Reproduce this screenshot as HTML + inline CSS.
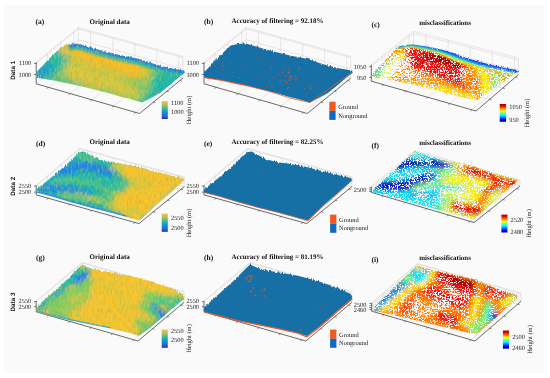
<!DOCTYPE html>
<html><head><meta charset="utf-8"><title>Filtering results</title>
<style>html,body{margin:0;padding:0;background:#fff}svg{display:block}text{text-rendering:geometricPrecision}</style></head>
<body><svg width="550" height="378" viewBox="0 0 550 378">
<defs>
<linearGradient id="gpar" x1="0" y1="1" x2="0" y2="0"><stop offset="0.000" stop-color="#352a87"/><stop offset="0.143" stop-color="#2f5be0"/><stop offset="0.286" stop-color="#1481d6"/><stop offset="0.429" stop-color="#06a4ca"/><stop offset="0.571" stop-color="#2eb7a4"/><stop offset="0.714" stop-color="#87bf77"/><stop offset="0.857" stop-color="#d1bb59"/><stop offset="1.000" stop-color="#f5bd35"/></linearGradient>
<linearGradient id="gjet" x1="0" y1="1" x2="0" y2="0"><stop offset="0.000" stop-color="#00008f"/><stop offset="0.125" stop-color="#0000ff"/><stop offset="0.250" stop-color="#0080ff"/><stop offset="0.375" stop-color="#00ffff"/><stop offset="0.500" stop-color="#80ff80"/><stop offset="0.625" stop-color="#ffff00"/><stop offset="0.750" stop-color="#ff8000"/><stop offset="0.875" stop-color="#ff0000"/><stop offset="1.000" stop-color="#a00000"/></linearGradient>
<filter id="b1" x="-30%" y="-30%" width="160%" height="160%"><feGaussianBlur stdDeviation="0.9"/></filter>
<filter id="b2" x="-30%" y="-30%" width="160%" height="160%"><feGaussianBlur stdDeviation="2"/></filter>
<filter id="b3" x="-30%" y="-30%" width="160%" height="160%"><feGaussianBlur stdDeviation="3"/></filter>
<filter id="b4" x="-30%" y="-30%" width="160%" height="160%"><feGaussianBlur stdDeviation="4.5"/></filter>
<filter id="grain" x="0" y="0" width="100%" height="100%" color-interpolation-filters="sRGB">
<feTurbulence type="fractalNoise" baseFrequency="0.55 0.22" numOctaves="1" seed="7" result="n"/>
<feColorMatrix in="n" type="matrix" values="0 0 0 0 0.3  0 0 0 0 0.75  0 0 0 0 0.55  0 0 0 1.0 -0.47" result="d"/>
<feColorMatrix in="n" type="matrix" values="0 0 0 0 1  0 0 0 0 0.88  0 0 0 0 0.12  0 1.0 0 0 -0.47" result="l"/>
<feMerge><feMergeNode in="d"/><feMergeNode in="l"/></feMerge>
<feComposite in2="SourceGraphic" operator="in"/>
</filter>
<filter id="mottle" x="-5%" y="-5%" width="110%" height="110%">
<feTurbulence type="fractalNoise" baseFrequency="0.4 0.2" numOctaves="2" seed="9" result="n"/>
<feDisplacementMap in="SourceGraphic" in2="n" scale="9" xChannelSelector="R" yChannelSelector="G"/>
</filter>
<filter id="rough" x="-5%" y="-5%" width="110%" height="110%">
<feTurbulence type="fractalNoise" baseFrequency="0.5" numOctaves="1" seed="3" result="n"/>
<feDisplacementMap in="SourceGraphic" in2="n" scale="2.0" xChannelSelector="R" yChannelSelector="G" result="d1"/>
<feTurbulence type="fractalNoise" baseFrequency="0.6 0.06" numOctaves="2" seed="8"/>
<feColorMatrix type="matrix" values="0 0 0 0 0.5  0 1 0 0 0  0 0 0 0 0.5  0 0 0 0 1" result="n2"/>
<feDisplacementMap in="d1" in2="n2" scale="4" xChannelSelector="R" yChannelSelector="G"/>
</filter>
<filter id="rough2" x="-5%" y="-5%" width="110%" height="110%">
<feTurbulence type="fractalNoise" baseFrequency="0.6" numOctaves="2" seed="5" result="n"/>
<feDisplacementMap in="SourceGraphic" in2="n" scale="3.2" xChannelSelector="R" yChannelSelector="G"/>
</filter>
<filter id="speck" x="-5%" y="-5%" width="110%" height="110%" color-interpolation-filters="sRGB">
<feTurbulence type="fractalNoise" baseFrequency="0.75" numOctaves="2" seed="11"/>
<feColorMatrix type="matrix" values="1 0 0 0 0  0 1 0 0 0  0 0 1 0 0  0 0 0 0 1" result="hi"/>
<feTurbulence type="fractalNoise" baseFrequency="0.09" numOctaves="2" seed="4"/>
<feColorMatrix type="matrix" values="1 0 0 0 0  0 1 0 0 0  0 0 1 0 0  0 0 0 0 1" result="lo"/>
<feComposite in="hi" in2="lo" operator="arithmetic" k1="0" k2="0.8" k3="0.35" k4="-0.075" result="n"/>
<feColorMatrix in="n" type="matrix" values="0 0 0 0 1  0 0 0 0 1  0 0 0 0 1  9 0 0 0 -4.7" result="w"/>
<feComposite in="w" in2="SourceGraphic" operator="in" result="ws"/>
<feMerge result="m"><feMergeNode in="SourceGraphic"/><feMergeNode in="ws"/></feMerge>
<feGaussianBlur in="m" stdDeviation="0.35"/>
</filter>
<filter id="vspeck" x="-5%" y="-5%" width="110%" height="110%" color-interpolation-filters="sRGB">
<feColorMatrix in="SourceGraphic" type="matrix" values="0 0 0 1 0  0 0 0 1 0  0 0 0 1 0  0 0 0 0 1" result="a"/>
<feTurbulence type="fractalNoise" baseFrequency="0.75" numOctaves="2" seed="23"/>
<feColorMatrix type="matrix" values="1 0 0 0 0  0 1 0 0 0  0 0 1 0 0  0 0 0 0 1" result="n"/>
<feComposite in="a" in2="n" operator="arithmetic" k1="0" k2="0.33" k3="1" k4="0"/>
<feColorMatrix type="matrix" values="0 0 0 0 1  0 0 0 0 1  0 0 0 0 1  9 0 0 0 -5.9"/>
<feGaussianBlur stdDeviation="0.3"/>
</filter>
<filter id="ospeck" x="0" y="0" width="100%" height="100%" color-interpolation-filters="sRGB">
<feTurbulence type="fractalNoise" baseFrequency="0.5" numOctaves="2" seed="5" result="n"/>
<feColorMatrix in="n" type="matrix" values="0 0 0 0 0.9  0 0 0 0 0.33  0 0 0 0 0.15  9 0 0 0 -6.3" result="w"/>
<feComposite in="w" in2="SourceGraphic" operator="in"/>
</filter>
<mask id="c1" maskUnits="userSpaceOnUse" x="26" y="32" width="168" height="82"><g filter="url(#rough)"><polygon points="36.2,72.4 45.0,63.0 50.0,58.0 58.0,50.0 63.0,45.5 70.0,44.0 78.0,43.6 90.0,47.0 100.0,50.0 110.0,52.5 120.0,55.0 130.0,57.0 140.0,59.0 150.0,62.5 158.0,65.0 170.0,68.0 184.0,70.5 185.0,72.5 178.0,75.5 170.0,81.8 160.0,89.8 150.0,95.3 142.0,99.2 130.0,95.8 120.0,93.3 110.0,90.3 100.0,87.8 90.0,85.3 82.0,83.3 70.0,80.8 54.0,77.3 36.2,77.8" fill="#fff"/></g><polygon points="185.0,72.5 178.0,78.0 170.0,85.0 160.0,93.0 150.0,98.5 142.0,102.4 130.0,99.0 120.0,96.5 110.0,93.5 100.0,91.0 90.0,88.5 82.0,86.5 70.0,84.0 54.0,80.5 36.2,77.8 36.2,77.8 54.0,74.0 70.0,77.5 82.0,80.0 90.0,82.0 100.0,84.5 110.0,87.0 120.0,90.0 130.0,92.5 142.0,95.9 150.0,92.0 160.0,86.5 170.0,78.5 178.0,72.9 185.0,72.5" fill="#fff"/></mask>
<mask id="c2" maskUnits="userSpaceOnUse" x="194" y="32" width="168" height="82"><g filter="url(#rough)"><polygon points="204.0,72.4 212.8,63.0 217.8,58.0 225.8,50.0 230.8,45.5 237.8,44.0 245.8,43.6 257.8,47.0 267.8,50.0 277.8,52.5 287.8,55.0 297.8,57.0 307.8,59.0 317.8,62.5 325.8,65.0 337.8,68.0 351.8,70.5 352.8,72.5 345.8,75.5 337.8,81.8 327.8,89.8 317.8,95.3 309.8,99.2 297.8,95.8 287.8,93.3 277.8,90.3 267.8,87.8 257.8,85.3 249.8,83.3 237.8,80.8 221.8,77.3 204.0,77.8" fill="#fff"/></g><polygon points="352.8,72.5 345.8,78.0 337.8,85.0 327.8,93.0 317.8,98.5 309.8,102.4 297.8,99.0 287.8,96.5 277.8,93.5 267.8,91.0 257.8,88.5 249.8,86.5 237.8,84.0 221.8,80.5 204.0,77.8 204.0,77.8 221.8,74.0 237.8,77.5 249.8,80.0 257.8,82.0 267.8,84.5 277.8,87.0 287.8,90.0 297.8,92.5 309.8,95.9 317.8,92.0 327.8,86.5 337.8,78.5 345.8,72.9 352.8,72.5" fill="#fff"/></mask>
<linearGradient id="rclg" gradientUnits="userSpaceOnUse" x1="450" y1="0" x2="492" y2="0"><stop offset="0" stop-color="#fff"/><stop offset="1" stop-color="#000"/></linearGradient><mask id="rcl" maskUnits="userSpaceOnUse" x="380" y="30" width="150" height="80"><rect x="380" y="30" width="150" height="80" fill="url(#rclg)"/></mask>
<mask id="c3" maskUnits="userSpaceOnUse" x="362" y="32" width="166" height="80"><g filter="url(#rough2)"><polygon points="372.0,74.5 380.0,66.0 390.0,55.0 398.0,46.5 405.0,45.0 413.0,44.5 428.0,46.8 441.0,49.4 453.6,53.0 460.0,56.0 480.0,62.0 500.0,67.0 517.0,70.0 518.0,72.0 500.0,80.8 490.0,87.8 477.0,96.8 460.0,93.8 440.0,88.3 425.0,84.3 412.0,81.3 393.0,77.3 372.0,76.5" fill="#fff"/></g><polygon points="518.0,72.0 500.0,84.0 490.0,91.0 477.0,100.0 460.0,97.0 440.0,91.5 425.0,87.5 412.0,84.5 393.0,80.5 372.0,76.5 372.0,76.5 393.0,74.0 412.0,78.0 425.0,81.0 440.0,85.0 460.0,90.5 477.0,93.5 490.0,84.5 500.0,77.5 518.0,72.0" fill="#fff"/></mask>
<mask id="c4" maskUnits="userSpaceOnUse" x="26" y="140" width="168" height="92"><g filter="url(#rough)"><polygon points="36.2,189.5 50.0,178.5 65.0,166.0 76.5,155.0 80.0,152.0 84.0,151.5 92.0,156.0 101.0,160.0 111.0,162.5 120.0,163.5 130.0,165.3 140.0,167.3 150.0,170.0 170.0,175.0 183.0,178.0 184.5,180.0 170.0,189.8 156.0,201.8 140.0,217.3 130.0,214.8 110.0,209.3 90.0,204.3 70.0,198.8 50.0,192.8 36.2,192.6" fill="#fff"/></g><polygon points="184.5,180.0 170.0,193.0 156.0,205.0 140.0,220.5 130.0,218.0 110.0,212.5 90.0,207.5 70.0,202.0 50.0,196.0 36.2,192.6 36.2,192.6 50.0,189.5 70.0,195.5 90.0,201.0 110.0,206.0 130.0,211.5 140.0,214.0 156.0,198.5 170.0,186.5 184.5,180.0" fill="#fff"/></mask>
<mask id="c5" maskUnits="userSpaceOnUse" x="194" y="140" width="168" height="92"><g filter="url(#rough)"><polygon points="204.0,189.5 217.8,178.5 232.8,166.0 244.3,155.0 247.8,152.0 251.8,151.5 259.8,156.0 268.8,160.0 278.8,162.5 287.8,163.5 297.8,165.3 307.8,167.3 317.8,170.0 337.8,175.0 350.8,178.0 352.3,180.0 337.8,189.8 323.8,201.8 307.8,217.3 297.8,214.8 277.8,209.3 257.8,204.3 237.8,198.8 217.8,192.8 204.0,192.6" fill="#fff"/></g><polygon points="352.3,180.0 337.8,193.0 323.8,205.0 307.8,220.5 297.8,218.0 277.8,212.5 257.8,207.5 237.8,202.0 217.8,196.0 204.0,192.6 204.0,192.6 217.8,189.5 237.8,195.5 257.8,201.0 277.8,206.0 297.8,211.5 307.8,214.0 323.8,198.5 337.8,186.5 352.3,180.0" fill="#fff"/></mask>
<mask id="c6" maskUnits="userSpaceOnUse" x="362" y="140" width="166" height="92"><g filter="url(#rough2)"><polygon points="373.0,190.0 385.0,179.0 400.0,165.0 412.0,153.5 415.4,151.5 420.0,153.0 430.0,156.5 446.0,161.0 460.0,163.0 475.0,166.5 480.0,169.0 500.0,175.0 517.0,179.0 518.0,181.0 500.0,192.8 480.0,210.8 474.0,216.3 460.0,212.5 445.0,208.4 425.0,203.0 395.0,194.8 373.0,192.0" fill="#fff"/></g><polygon points="518.0,181.0 500.0,196.0 480.0,214.0 474.0,219.5 460.0,215.7 445.0,211.6 425.0,206.2 395.0,198.0 373.0,192.0 373.0,192.0 395.0,191.5 425.0,199.7 445.0,205.1 460.0,209.2 474.0,213.0 480.0,207.5 500.0,189.5 518.0,181.0" fill="#fff"/></mask>
<mask id="c7" maskUnits="userSpaceOnUse" x="26" y="256" width="168" height="90"><g filter="url(#rough)"><polygon points="36.2,307.4 50.0,295.0 65.0,281.5 78.0,268.5 82.3,264.5 90.0,268.0 100.0,270.5 110.0,272.3 130.0,275.8 150.0,281.0 170.0,288.0 183.0,294.0 184.5,297.0 184.0,298.8 170.0,307.3 160.0,316.3 150.0,324.8 139.0,332.8 130.0,329.8 110.0,325.3 90.0,321.3 70.0,317.3 50.0,312.3 36.2,311.8" fill="#fff"/></g><polygon points="184.5,297.0 184.0,299.0 170.0,310.5 160.0,319.5 150.0,328.0 139.0,336.0 130.0,333.0 110.0,328.5 90.0,324.5 70.0,320.5 50.0,315.5 36.2,311.8 36.2,311.8 50.0,309.0 70.0,314.0 90.0,318.0 110.0,322.0 130.0,326.5 139.0,329.5 150.0,321.5 160.0,313.0 170.0,304.0 184.0,298.6 184.5,297.0" fill="#fff"/></mask>
<mask id="c8" maskUnits="userSpaceOnUse" x="194" y="256" width="168" height="90"><g filter="url(#rough)"><polygon points="204.0,307.4 217.8,295.0 232.8,281.5 245.8,268.5 250.1,264.5 257.8,268.0 267.8,270.5 277.8,272.3 297.8,275.8 317.8,281.0 337.8,288.0 350.8,294.0 352.3,297.0 351.8,298.8 337.8,307.3 327.8,316.3 317.8,324.8 306.8,332.8 297.8,329.8 277.8,325.3 257.8,321.3 237.8,317.3 217.8,312.3 204.0,311.8" fill="#fff"/></g><polygon points="352.3,297.0 351.8,299.0 337.8,310.5 327.8,319.5 317.8,328.0 306.8,336.0 297.8,333.0 277.8,328.5 257.8,324.5 237.8,320.5 217.8,315.5 204.0,311.8 204.0,311.8 217.8,309.0 237.8,314.0 257.8,318.0 277.8,322.0 297.8,326.5 306.8,329.5 317.8,321.5 327.8,313.0 337.8,304.0 351.8,298.6 352.3,297.0" fill="#fff"/></mask>
<mask id="c9" maskUnits="userSpaceOnUse" x="362" y="256" width="166" height="90"><g filter="url(#rough2)"><polygon points="373.0,308.0 385.0,296.5 400.0,282.0 415.0,267.5 418.5,265.5 425.0,268.0 435.0,271.0 455.0,275.0 475.0,279.5 480.0,282.0 500.0,290.0 517.0,295.0 518.0,297.5 500.0,310.8 490.0,319.8 476.0,331.3 460.0,327.6 435.0,321.8 415.0,317.1 395.0,312.4 373.0,310.5" fill="#fff"/></g><polygon points="518.0,297.5 500.0,314.0 490.0,323.0 476.0,334.5 460.0,330.8 435.0,325.0 415.0,320.3 395.0,315.6 373.0,310.5 373.0,310.5 395.0,309.1 415.0,313.8 435.0,318.5 460.0,324.3 476.0,328.0 490.0,316.5 500.0,307.5 518.0,297.5" fill="#fff"/></mask>
</defs>
<rect width="550" height="378" fill="#ffffff"/>
<rect x="4" y="5" width="540" height="368" fill="#fafafa"/>
<line x1="48.3" y1="87.3" x2="90.6" y2="52.5" stroke="#d6d6d6" stroke-width="0.60"/><line x1="90.6" y1="52.5" x2="90.6" y2="30.9" stroke="#d6d6d6" stroke-width="0.60"/><line x1="70.3" y1="93.6" x2="112.9" y2="58.7" stroke="#d6d6d6" stroke-width="0.60"/><line x1="112.9" y1="58.7" x2="112.9" y2="37.1" stroke="#d6d6d6" stroke-width="0.60"/><line x1="92.0" y1="99.8" x2="134.9" y2="64.8" stroke="#d6d6d6" stroke-width="0.60"/><line x1="134.9" y1="64.8" x2="134.9" y2="43.2" stroke="#d6d6d6" stroke-width="0.60"/><line x1="113.7" y1="106.1" x2="156.8" y2="70.8" stroke="#d6d6d6" stroke-width="0.60"/><line x1="156.8" y1="70.8" x2="156.8" y2="49.2" stroke="#d6d6d6" stroke-width="0.60"/><line x1="135.4" y1="112.3" x2="178.8" y2="76.9" stroke="#d6d6d6" stroke-width="0.60"/><line x1="178.8" y1="76.9" x2="178.8" y2="55.3" stroke="#d6d6d6" stroke-width="0.60"/><line x1="153.4" y1="102.2" x2="47.2" y2="74.8" stroke="#d6d6d6" stroke-width="0.60"/><line x1="47.2" y1="74.8" x2="47.2" y2="53.2" stroke="#d6d6d6" stroke-width="0.60"/><line x1="166.9" y1="91.2" x2="60.5" y2="63.8" stroke="#d6d6d6" stroke-width="0.60"/><line x1="60.5" y1="63.8" x2="60.5" y2="42.2" stroke="#d6d6d6" stroke-width="0.60"/><line x1="180.0" y1="80.6" x2="73.9" y2="52.8" stroke="#d6d6d6" stroke-width="0.60"/><line x1="73.9" y1="52.8" x2="73.9" y2="31.2" stroke="#d6d6d6" stroke-width="0.60"/><line x1="36.2" y1="74.5" x2="78.4" y2="39.8" stroke="#d6d6d6" stroke-width="0.60"/><line x1="78.4" y1="39.8" x2="183.0" y2="68.8" stroke="#d6d6d6" stroke-width="0.60"/><line x1="36.2" y1="63.5" x2="78.4" y2="28.8" stroke="#d6d6d6" stroke-width="0.60"/><line x1="78.4" y1="28.8" x2="183.0" y2="57.8" stroke="#d6d6d6" stroke-width="0.60"/><line x1="36.2" y1="62.2" x2="78.4" y2="27.5" stroke="#d6d6d6" stroke-width="0.60"/><line x1="78.4" y1="27.5" x2="183.0" y2="56.5" stroke="#d6d6d6" stroke-width="0.60"/><line x1="183.0" y1="56.5" x2="183.0" y2="78.1" stroke="#d6d6d6" stroke-width="0.60"/><line x1="78.4" y1="27.5" x2="78.4" y2="49.1" stroke="#d6d6d6" stroke-width="0.60"/><line x1="36.2" y1="83.8" x2="78.4" y2="49.1" stroke="#d6d6d6" stroke-width="0.60"/><line x1="78.4" y1="49.1" x2="183.0" y2="78.1" stroke="#d6d6d6" stroke-width="0.60"/><line x1="36.2" y1="62.2" x2="36.2" y2="83.8" stroke="#454545" stroke-width="0.80"/><line x1="36.2" y1="83.8" x2="139.5" y2="113.5" stroke="#454545" stroke-width="0.80"/><line x1="139.5" y1="113.5" x2="183.0" y2="78.1" stroke="#454545" stroke-width="0.80"/><line x1="36.2" y1="74.5" x2="34.0" y2="74.5" stroke="#454545" stroke-width="0.70"/><line x1="36.2" y1="63.5" x2="34.0" y2="63.5" stroke="#454545" stroke-width="0.70"/><line x1="48.3" y1="87.3" x2="46.7" y2="88.5" stroke="#454545" stroke-width="0.60"/><line x1="70.3" y1="93.6" x2="68.7" y2="94.9" stroke="#454545" stroke-width="0.60"/><line x1="92.0" y1="99.8" x2="90.4" y2="101.1" stroke="#454545" stroke-width="0.60"/><line x1="113.7" y1="106.1" x2="112.1" y2="107.3" stroke="#454545" stroke-width="0.60"/><line x1="135.4" y1="112.3" x2="133.8" y2="113.6" stroke="#454545" stroke-width="0.60"/><line x1="153.4" y1="102.2" x2="155.3" y2="102.7" stroke="#454545" stroke-width="0.60"/><line x1="166.9" y1="91.2" x2="168.8" y2="91.8" stroke="#454545" stroke-width="0.60"/><line x1="180.0" y1="80.6" x2="181.9" y2="81.1" stroke="#454545" stroke-width="0.60"/>
<g mask="url(#c1)"><g filter="url(#mottle)"><rect x="30.0" y="38.0" width="160.0" height="70.0" fill="#84c66a"/><g filter="url(#b3)"><ellipse cx="46.0" cy="70.0" rx="14.0" ry="8.0" transform="rotate(-45 46.0 70.0)" fill="#16a0d0" opacity="1.00"/><ellipse cx="40.0" cy="75.0" rx="8.0" ry="4.0" transform="rotate(0 40.0 75.0)" fill="#1c8ee0" opacity="1.00"/><ellipse cx="52.0" cy="62.0" rx="6.0" ry="10.0" transform="rotate(-45 52.0 62.0)" fill="#16a0d0" opacity="0.80"/><ellipse cx="58.0" cy="60.0" rx="9.0" ry="12.0" transform="rotate(-40 58.0 60.0)" fill="#1fb8aa" opacity="1.00"/><ellipse cx="100.0" cy="58.0" rx="46.0" ry="8.5" transform="rotate(16 100.0 58.0)" fill="#fcbc26" opacity="1.00"/><ellipse cx="125.0" cy="67.0" rx="26.0" ry="9.0" transform="rotate(18 125.0 67.0)" fill="#fcbc26" opacity="1.00"/><ellipse cx="80.0" cy="53.0" rx="17.0" ry="6.5" transform="rotate(10 80.0 53.0)" fill="#fcbc26" opacity="1.00"/><ellipse cx="110.0" cy="61.0" rx="28.0" ry="6.0" transform="rotate(16 110.0 61.0)" fill="#fdb82a" opacity="1.00"/><ellipse cx="78.0" cy="68.0" rx="14.0" ry="7.0" transform="rotate(12 78.0 68.0)" fill="#d4c640" opacity="1.00"/><ellipse cx="95.0" cy="80.0" rx="32.0" ry="7.5" transform="rotate(15 95.0 80.0)" fill="#e2c238" opacity="1.00"/><ellipse cx="122.0" cy="89.0" rx="20.0" ry="7.0" transform="rotate(16 122.0 89.0)" fill="#d4c640" opacity="1.00"/><ellipse cx="100.0" cy="72.0" rx="30.0" ry="5.0" transform="rotate(15 100.0 72.0)" fill="#d4c640" opacity="0.80"/><ellipse cx="166.0" cy="81.0" rx="14.0" ry="12.0" transform="rotate(-35 166.0 81.0)" fill="#1fb8aa" opacity="1.00"/><ellipse cx="150.0" cy="96.0" rx="13.0" ry="4.5" transform="rotate(-38 150.0 96.0)" fill="#1fb8aa" opacity="1.00"/><ellipse cx="160.0" cy="91.0" rx="10.0" ry="5.0" transform="rotate(-38 160.0 91.0)" fill="#16a0d0" opacity="0.70"/><ellipse cx="179.0" cy="73.5" rx="8.0" ry="4.0" transform="rotate(15 179.0 73.5)" fill="#16a0d0" opacity="1.00"/><ellipse cx="64.0" cy="82.0" rx="24.0" ry="2.5" transform="rotate(12 64.0 82.0)" fill="#1fb8aa" opacity="0.80"/></g></g><polyline points="69.0,46.2 78.0,45.2 90.0,48.7 100.0,51.7 120.0,56.7 140.0,60.7 158.0,66.7 170.0,69.7 186.0,72.7" fill="none" stroke="#1a78f2" stroke-width="4.4" filter="url(#b1)"/><polyline points="69.0,49.2 78.0,48.2 90.0,51.7 100.0,54.7 120.0,59.7 140.0,63.7 158.0,69.7 170.0,72.7 186.0,75.7" fill="none" stroke="#1fb8aa" stroke-width="2.5" filter="url(#b1)"/><rect x="30.0" y="38.0" width="160.0" height="70.0" fill="#fff" filter="url(#grain)"/></g>
<line x1="216.1" y1="87.3" x2="258.4" y2="52.5" stroke="#d6d6d6" stroke-width="0.60"/><line x1="258.4" y1="52.5" x2="258.4" y2="30.9" stroke="#d6d6d6" stroke-width="0.60"/><line x1="238.1" y1="93.6" x2="280.7" y2="58.7" stroke="#d6d6d6" stroke-width="0.60"/><line x1="280.7" y1="58.7" x2="280.7" y2="37.1" stroke="#d6d6d6" stroke-width="0.60"/><line x1="259.8" y1="99.8" x2="302.7" y2="64.8" stroke="#d6d6d6" stroke-width="0.60"/><line x1="302.7" y1="64.8" x2="302.7" y2="43.2" stroke="#d6d6d6" stroke-width="0.60"/><line x1="281.5" y1="106.1" x2="324.6" y2="70.8" stroke="#d6d6d6" stroke-width="0.60"/><line x1="324.6" y1="70.8" x2="324.6" y2="49.2" stroke="#d6d6d6" stroke-width="0.60"/><line x1="303.2" y1="112.3" x2="346.6" y2="76.9" stroke="#d6d6d6" stroke-width="0.60"/><line x1="346.6" y1="76.9" x2="346.6" y2="55.3" stroke="#d6d6d6" stroke-width="0.60"/><line x1="321.2" y1="102.2" x2="215.0" y2="74.8" stroke="#d6d6d6" stroke-width="0.60"/><line x1="215.0" y1="74.8" x2="215.0" y2="53.2" stroke="#d6d6d6" stroke-width="0.60"/><line x1="334.7" y1="91.2" x2="228.3" y2="63.8" stroke="#d6d6d6" stroke-width="0.60"/><line x1="228.3" y1="63.8" x2="228.3" y2="42.2" stroke="#d6d6d6" stroke-width="0.60"/><line x1="347.8" y1="80.6" x2="241.7" y2="52.8" stroke="#d6d6d6" stroke-width="0.60"/><line x1="241.7" y1="52.8" x2="241.7" y2="31.2" stroke="#d6d6d6" stroke-width="0.60"/><line x1="204.0" y1="74.5" x2="246.2" y2="39.8" stroke="#d6d6d6" stroke-width="0.60"/><line x1="246.2" y1="39.8" x2="350.8" y2="68.8" stroke="#d6d6d6" stroke-width="0.60"/><line x1="204.0" y1="63.5" x2="246.2" y2="28.8" stroke="#d6d6d6" stroke-width="0.60"/><line x1="246.2" y1="28.8" x2="350.8" y2="57.8" stroke="#d6d6d6" stroke-width="0.60"/><line x1="204.0" y1="62.2" x2="246.2" y2="27.5" stroke="#d6d6d6" stroke-width="0.60"/><line x1="246.2" y1="27.5" x2="350.8" y2="56.5" stroke="#d6d6d6" stroke-width="0.60"/><line x1="350.8" y1="56.5" x2="350.8" y2="78.1" stroke="#d6d6d6" stroke-width="0.60"/><line x1="246.2" y1="27.5" x2="246.2" y2="49.1" stroke="#d6d6d6" stroke-width="0.60"/><line x1="204.0" y1="83.8" x2="246.2" y2="49.1" stroke="#d6d6d6" stroke-width="0.60"/><line x1="246.2" y1="49.1" x2="350.8" y2="78.1" stroke="#d6d6d6" stroke-width="0.60"/><line x1="204.0" y1="62.2" x2="204.0" y2="83.8" stroke="#454545" stroke-width="0.80"/><line x1="204.0" y1="83.8" x2="307.3" y2="113.5" stroke="#454545" stroke-width="0.80"/><line x1="307.3" y1="113.5" x2="350.8" y2="78.1" stroke="#454545" stroke-width="0.80"/><line x1="204.0" y1="74.5" x2="201.8" y2="74.5" stroke="#454545" stroke-width="0.70"/><line x1="204.0" y1="63.5" x2="201.8" y2="63.5" stroke="#454545" stroke-width="0.70"/><line x1="216.1" y1="87.3" x2="214.5" y2="88.5" stroke="#454545" stroke-width="0.60"/><line x1="238.1" y1="93.6" x2="236.5" y2="94.9" stroke="#454545" stroke-width="0.60"/><line x1="259.8" y1="99.8" x2="258.2" y2="101.1" stroke="#454545" stroke-width="0.60"/><line x1="281.5" y1="106.1" x2="279.9" y2="107.3" stroke="#454545" stroke-width="0.60"/><line x1="303.2" y1="112.3" x2="301.6" y2="113.6" stroke="#454545" stroke-width="0.60"/><line x1="321.2" y1="102.2" x2="323.1" y2="102.7" stroke="#454545" stroke-width="0.60"/><line x1="334.7" y1="91.2" x2="336.6" y2="91.8" stroke="#454545" stroke-width="0.60"/><line x1="347.8" y1="80.6" x2="349.7" y2="81.1" stroke="#454545" stroke-width="0.60"/>
<g mask="url(#c2)"><rect x="198.0" y="38.0" width="160.0" height="70.0" fill="#1670a6"/><polygon points="205.0,77.2 222.0,80.0 238.0,83.2 250.0,85.8 252.0,87.0 238.0,84.6 222.0,81.2 205.0,78.0" fill="#e4572a"/><rect x="222.5" y="62.0" width="0.6" height="0.7" fill="#e4572a" transform="rotate(-20 222.5 62.0)"/><rect x="214.7" y="70.4" width="0.5" height="1.5" fill="#e4572a" transform="rotate(-20 214.7 70.4)"/><rect x="222.0" y="70.2" width="0.5" height="0.7" fill="#e4572a" transform="rotate(-20 222.0 70.2)"/><rect x="223.4" y="77.9" width="0.4" height="1.2" fill="#e4572a" transform="rotate(15 223.4 77.9)"/><rect x="242.8" y="63.7" width="0.5" height="1.2" fill="#e4572a" transform="rotate(15 242.8 63.7)"/><rect x="217.1" y="71.5" width="0.7" height="1.0" fill="#e4572a" transform="rotate(0 217.1 71.5)"/><rect x="222.9" y="65.3" width="0.8" height="1.3" fill="#e4572a" transform="rotate(15 222.9 65.3)"/><rect x="214.3" y="65.5" width="0.7" height="0.9" fill="#e4572a" transform="rotate(0 214.3 65.5)"/><rect x="228.9" y="71.4" width="0.6" height="0.7" fill="#e4572a" transform="rotate(15 228.9 71.4)"/><rect x="223.3" y="75.2" width="0.4" height="1.0" fill="#e4572a" transform="rotate(15 223.3 75.2)"/><rect x="232.7" y="72.3" width="0.7" height="0.7" fill="#e4572a" transform="rotate(0 232.7 72.3)"/><rect x="216.4" y="77.4" width="0.7" height="1.0" fill="#e4572a" transform="rotate(0 216.4 77.4)"/><rect x="226.8" y="74.2" width="0.5" height="1.1" fill="#e4572a" transform="rotate(15 226.8 74.2)"/><rect x="217.6" y="61.2" width="0.5" height="1.3" fill="#e4572a" transform="rotate(0 217.6 61.2)"/><rect x="218.4" y="77.8" width="0.5" height="0.6" fill="#e4572a" transform="rotate(15 218.4 77.8)"/><rect x="239.1" y="77.0" width="0.8" height="1.3" fill="#e4572a" transform="rotate(15 239.1 77.0)"/><rect x="225.7" y="56.0" width="0.7" height="1.1" fill="#e4572a" transform="rotate(30 225.7 56.0)"/><rect x="256.9" y="64.2" width="0.6" height="0.6" fill="#e4572a" transform="rotate(0 256.9 64.2)"/><rect x="258.1" y="56.1" width="0.4" height="1.0" fill="#e4572a" transform="rotate(0 258.1 56.1)"/><rect x="237.3" y="52.1" width="0.4" height="0.6" fill="#e4572a" transform="rotate(15 237.3 52.1)"/><rect x="261.9" y="60.0" width="0.5" height="0.7" fill="#e4572a" transform="rotate(0 261.9 60.0)"/><rect x="229.2" y="52.9" width="0.6" height="1.0" fill="#e4572a" transform="rotate(0 229.2 52.9)"/><rect x="288.2" y="78.0" width="0.8" height="1.1" fill="#e4572a" transform="rotate(-20 288.2 78.0)"/><rect x="273.7" y="77.6" width="0.9" height="1.2" fill="#e4572a" transform="rotate(0 273.7 77.6)"/><rect x="284.3" y="71.3" width="0.7" height="0.7" fill="#e4572a" transform="rotate(30 284.3 71.3)"/><rect x="283.3" y="80.2" width="0.7" height="1.0" fill="#e4572a" transform="rotate(0 283.3 80.2)"/><rect x="270.9" y="71.6" width="0.6" height="0.9" fill="#e4572a" transform="rotate(0 270.9 71.6)"/><rect x="282.5" y="71.8" width="0.7" height="1.8" fill="#e4572a" transform="rotate(15 282.5 71.8)"/><rect x="287.0" y="87.8" width="0.7" height="1.8" fill="#e4572a" transform="rotate(-20 287.0 87.8)"/><rect x="284.8" y="68.0" width="0.6" height="1.7" fill="#e4572a" transform="rotate(0 284.8 68.0)"/><rect x="280.1" y="80.5" width="0.9" height="1.5" fill="#e4572a" transform="rotate(30 280.1 80.5)"/><rect x="285.8" y="80.4" width="0.8" height="1.0" fill="#e4572a" transform="rotate(30 285.8 80.4)"/><rect x="298.7" y="67.6" width="1.0" height="1.9" fill="#e4572a" transform="rotate(0 298.7 67.6)"/><rect x="271.3" y="85.8" width="0.6" height="1.9" fill="#e4572a" transform="rotate(-20 271.3 85.8)"/><rect x="296.1" y="81.1" width="0.7" height="1.3" fill="#e4572a" transform="rotate(30 296.1 81.1)"/><rect x="297.8" y="70.8" width="0.5" height="1.8" fill="#e4572a" transform="rotate(-20 297.8 70.8)"/><rect x="288.3" y="71.7" width="0.7" height="1.6" fill="#e4572a" transform="rotate(30 288.3 71.7)"/><rect x="296.3" y="78.1" width="0.9" height="0.9" fill="#e4572a" transform="rotate(15 296.3 78.1)"/><rect x="294.6" y="78.4" width="0.9" height="1.8" fill="#e4572a" transform="rotate(30 294.6 78.4)"/><rect x="270.8" y="66.8" width="0.8" height="1.3" fill="#e4572a" transform="rotate(15 270.8 66.8)"/><rect x="288.2" y="69.1" width="0.7" height="1.6" fill="#e4572a" transform="rotate(-20 288.2 69.1)"/><rect x="278.9" y="73.6" width="0.5" height="1.9" fill="#e4572a" transform="rotate(30 278.9 73.6)"/><rect x="281.4" y="83.3" width="0.7" height="1.0" fill="#e4572a" transform="rotate(30 281.4 83.3)"/><rect x="295.7" y="74.8" width="0.5" height="1.8" fill="#e4572a" transform="rotate(15 295.7 74.8)"/><rect x="285.4" y="75.5" width="0.9" height="1.6" fill="#e4572a" transform="rotate(-20 285.4 75.5)"/><rect x="288.9" y="86.7" width="0.8" height="1.8" fill="#e4572a" transform="rotate(30 288.9 86.7)"/><rect x="286.2" y="81.6" width="0.8" height="2.3" fill="#e4572a" transform="rotate(0 286.2 81.6)"/><rect x="289.1" y="75.9" width="1.2" height="1.3" fill="#e4572a" transform="rotate(-20 289.1 75.9)"/><rect x="289.1" y="72.1" width="0.9" height="1.8" fill="#e4572a" transform="rotate(30 289.1 72.1)"/><rect x="289.9" y="79.2" width="1.0" height="1.7" fill="#e4572a" transform="rotate(30 289.9 79.2)"/><rect x="290.5" y="76.3" width="1.1" height="2.4" fill="#e4572a" transform="rotate(-20 290.5 76.3)"/><rect x="310.4" y="87.8" width="0.6" height="1.6" fill="#e4572a" transform="rotate(30 310.4 87.8)"/><rect x="311.6" y="87.1" width="0.9" height="1.2" fill="#e4572a" transform="rotate(30 311.6 87.1)"/><rect x="309.7" y="85.1" width="0.5" height="1.5" fill="#e4572a" transform="rotate(15 309.7 85.1)"/><rect x="313.8" y="83.4" width="0.6" height="1.3" fill="#e4572a" transform="rotate(0 313.8 83.4)"/><rect x="306.1" y="93.0" width="0.5" height="1.5" fill="#e4572a" transform="rotate(-20 306.1 93.0)"/><rect x="303.8" y="88.3" width="0.9" height="1.0" fill="#e4572a" transform="rotate(15 303.8 88.3)"/><rect x="306.6" y="82.8" width="0.5" height="0.7" fill="#e4572a" transform="rotate(-20 306.6 82.8)"/><rect x="268.6" y="82.9" width="0.8" height="0.7" fill="#e4572a" transform="rotate(30 268.6 82.9)"/><rect x="266.2" y="85.9" width="0.4" height="1.4" fill="#e4572a" transform="rotate(-20 266.2 85.9)"/><rect x="257.9" y="77.7" width="0.8" height="0.8" fill="#e4572a" transform="rotate(15 257.9 77.7)"/><rect x="269.5" y="81.0" width="0.8" height="0.8" fill="#e4572a" transform="rotate(30 269.5 81.0)"/><rect x="267.0" y="75.0" width="0.5" height="0.9" fill="#e4572a" transform="rotate(30 267.0 75.0)"/><rect x="331.5" y="67.6" width="0.5" height="1.2" fill="#e4572a" transform="rotate(15 331.5 67.6)"/><rect x="315.3" y="70.2" width="0.4" height="1.2" fill="#e4572a" transform="rotate(30 315.3 70.2)"/><rect x="324.3" y="70.6" width="0.5" height="1.3" fill="#e4572a" transform="rotate(-20 324.3 70.6)"/><rect x="305.5" y="62.9" width="0.7" height="1.3" fill="#e4572a" transform="rotate(15 305.5 62.9)"/><rect x="321.1" y="66.4" width="0.4" height="0.7" fill="#e4572a" transform="rotate(0 321.1 66.4)"/><rect x="275.8" y="49.4" width="0.6" height="0.6" fill="#e4572a" transform="rotate(0 275.8 49.4)"/><rect x="272.4" y="48.4" width="0.4" height="0.9" fill="#e4572a" transform="rotate(15 272.4 48.4)"/></g><polyline points="204.0,77.6 222.0,80.5 238.0,84.0 250.0,86.5 268.0,91.0 290.0,98.0 310.0,102.6 330.0,88.0 352.0,72.5" fill="none" stroke="#e4572a" stroke-width="0.8"/>
<line x1="383.5" y1="84.7" x2="425.8" y2="51.0" stroke="#d6d6d6" stroke-width="0.60"/><line x1="425.8" y1="51.0" x2="425.8" y2="34.4" stroke="#d6d6d6" stroke-width="0.60"/><line x1="405.9" y1="91.0" x2="448.1" y2="56.7" stroke="#d6d6d6" stroke-width="0.60"/><line x1="448.1" y1="56.7" x2="448.1" y2="40.1" stroke="#d6d6d6" stroke-width="0.60"/><line x1="427.8" y1="97.3" x2="470.2" y2="62.3" stroke="#d6d6d6" stroke-width="0.60"/><line x1="470.2" y1="62.3" x2="470.2" y2="45.7" stroke="#d6d6d6" stroke-width="0.60"/><line x1="449.8" y1="103.5" x2="492.2" y2="67.9" stroke="#d6d6d6" stroke-width="0.60"/><line x1="492.2" y1="67.9" x2="492.2" y2="51.3" stroke="#d6d6d6" stroke-width="0.60"/><line x1="471.8" y1="109.8" x2="514.3" y2="73.5" stroke="#d6d6d6" stroke-width="0.60"/><line x1="514.3" y1="73.5" x2="514.3" y2="56.9" stroke="#d6d6d6" stroke-width="0.60"/><line x1="489.6" y1="99.4" x2="382.3" y2="72.5" stroke="#d6d6d6" stroke-width="0.60"/><line x1="382.3" y1="72.5" x2="382.3" y2="55.9" stroke="#d6d6d6" stroke-width="0.60"/><line x1="502.8" y1="88.1" x2="395.6" y2="62.0" stroke="#d6d6d6" stroke-width="0.60"/><line x1="395.6" y1="62.0" x2="395.6" y2="45.4" stroke="#d6d6d6" stroke-width="0.60"/><line x1="515.5" y1="77.1" x2="409.0" y2="51.5" stroke="#d6d6d6" stroke-width="0.60"/><line x1="409.0" y1="51.5" x2="409.0" y2="34.9" stroke="#d6d6d6" stroke-width="0.60"/><line x1="371.3" y1="77.4" x2="413.5" y2="44.1" stroke="#d6d6d6" stroke-width="0.60"/><line x1="413.5" y1="44.1" x2="518.5" y2="70.8" stroke="#d6d6d6" stroke-width="0.60"/><line x1="371.3" y1="66.6" x2="413.5" y2="33.3" stroke="#d6d6d6" stroke-width="0.60"/><line x1="413.5" y1="33.3" x2="518.5" y2="60.0" stroke="#d6d6d6" stroke-width="0.60"/><line x1="371.3" y1="64.6" x2="413.5" y2="31.3" stroke="#d6d6d6" stroke-width="0.60"/><line x1="413.5" y1="31.3" x2="518.5" y2="58.0" stroke="#d6d6d6" stroke-width="0.60"/><line x1="518.5" y1="58.0" x2="518.5" y2="74.6" stroke="#d6d6d6" stroke-width="0.60"/><line x1="413.5" y1="31.3" x2="413.5" y2="47.9" stroke="#d6d6d6" stroke-width="0.60"/><line x1="371.3" y1="81.2" x2="413.5" y2="47.9" stroke="#d6d6d6" stroke-width="0.60"/><line x1="413.5" y1="47.9" x2="518.5" y2="74.6" stroke="#d6d6d6" stroke-width="0.60"/><line x1="371.3" y1="64.6" x2="371.3" y2="81.2" stroke="#454545" stroke-width="0.80"/><line x1="371.3" y1="81.2" x2="476.0" y2="111.0" stroke="#454545" stroke-width="0.80"/><line x1="476.0" y1="111.0" x2="518.5" y2="74.6" stroke="#454545" stroke-width="0.80"/><line x1="371.3" y1="77.4" x2="369.1" y2="77.4" stroke="#454545" stroke-width="0.70"/><line x1="371.3" y1="66.6" x2="369.1" y2="66.6" stroke="#454545" stroke-width="0.70"/><line x1="383.5" y1="84.7" x2="382.0" y2="86.0" stroke="#454545" stroke-width="0.60"/><line x1="405.9" y1="91.0" x2="404.3" y2="92.3" stroke="#454545" stroke-width="0.60"/><line x1="427.8" y1="97.3" x2="426.3" y2="98.6" stroke="#454545" stroke-width="0.60"/><line x1="449.8" y1="103.5" x2="448.3" y2="104.9" stroke="#454545" stroke-width="0.60"/><line x1="471.8" y1="109.8" x2="470.3" y2="111.1" stroke="#454545" stroke-width="0.60"/><line x1="489.6" y1="99.4" x2="491.5" y2="99.9" stroke="#454545" stroke-width="0.60"/><line x1="502.8" y1="88.1" x2="504.7" y2="88.6" stroke="#454545" stroke-width="0.60"/><line x1="515.5" y1="77.1" x2="517.4" y2="77.7" stroke="#454545" stroke-width="0.60"/>
<g mask="url(#c3)"><g filter="url(#speck)"><rect x="366.0" y="38.0" width="158.0" height="68.0" fill="#ff8a00"/><g filter="url(#b2)"><polyline points="374.0,75.0 380.0,68.0" fill="none" stroke="#18e0f0" stroke-width="4.0" stroke-linecap="round" stroke-linejoin="round" opacity="1.00"/><polyline points="379.0,76.5 384.0,70.0 392.0,60.0" fill="none" stroke="#7df070" stroke-width="5.0" stroke-linecap="round" stroke-linejoin="round" opacity="1.00"/><polyline points="386.0,78.0 392.0,69.0 400.0,58.0 404.0,52.0" fill="none" stroke="#f6ee10" stroke-width="7.0" stroke-linecap="round" stroke-linejoin="round" opacity="1.00"/><polyline points="396.0,80.0 402.0,70.0 408.0,58.0 410.0,50.0" fill="none" stroke="#ff8a00" stroke-width="8.0" stroke-linecap="round" stroke-linejoin="round" opacity="1.00"/><polyline points="408.0,51.0 425.0,53.0 442.0,58.0 462.0,66.0" fill="none" stroke="#e81010" stroke-width="10.0" stroke-linecap="round" stroke-linejoin="round" opacity="1.00"/><polyline points="412.0,62.0 432.0,68.0 455.0,76.0 470.0,84.0" fill="none" stroke="#e81010" stroke-width="14.0" stroke-linecap="round" stroke-linejoin="round" opacity="1.00"/><polyline points="430.0,57.5 444.0,60.0 458.0,64.5" fill="none" stroke="#9a0505" stroke-width="7.0" stroke-linecap="round" stroke-linejoin="round" opacity="1.00"/><polyline points="408.0,72.0 420.0,78.0 436.0,84.0" fill="none" stroke="#ff8a00" stroke-width="9.0" stroke-linecap="round" stroke-linejoin="round" opacity="0.90"/><polyline points="404.0,83.0 420.0,86.5 440.0,91.0" fill="none" stroke="#f6ee10" stroke-width="3.5" stroke-linecap="round" stroke-linejoin="round" opacity="1.00"/><polyline points="440.0,88.0 458.0,94.0 474.0,98.0" fill="none" stroke="#f6ee10" stroke-width="6.0" stroke-linecap="round" stroke-linejoin="round" opacity="1.00"/><polyline points="466.0,80.0 474.0,88.0 478.0,93.0" fill="none" stroke="#ff8a00" stroke-width="8.0" stroke-linecap="round" stroke-linejoin="round" opacity="1.00"/><polyline points="480.0,68.0 486.0,80.0 486.0,92.0" fill="none" stroke="#f6ee10" stroke-width="9.0" stroke-linecap="round" stroke-linejoin="round" opacity="1.00"/><polyline points="494.0,70.0 498.0,80.0 494.0,88.0" fill="none" stroke="#7df070" stroke-width="8.0" stroke-linecap="round" stroke-linejoin="round" opacity="1.00"/><polyline points="505.0,73.0 510.0,76.0" fill="none" stroke="#7df070" stroke-width="6.0" stroke-linecap="round" stroke-linejoin="round" opacity="1.00"/><polyline points="511.0,72.0 515.0,72.5" fill="none" stroke="#18e0f0" stroke-width="4.0" stroke-linecap="round" stroke-linejoin="round" opacity="1.00"/></g><polygon points="394.0,45.0 398.0,44.0 405.0,42.5 413.0,42.0 428.0,44.3 441.0,46.9 460.0,53.5 480.0,59.5 500.0,64.5 518.0,68.5 522.0,69.5 522.0,77.2 518.0,76.2 500.0,73.4 480.0,70.2 460.0,63.4 441.0,54.9 428.0,51.0 413.0,47.2 405.0,46.9 398.0,48.4 394.0,49.4" fill="#ff8a00" filter="url(#b1)"/><polygon points="394.0,45.0 398.0,44.0 405.0,42.5 413.0,42.0 428.0,44.3 441.0,46.9 460.0,53.5 480.0,59.5 500.0,64.5 518.0,68.5 522.0,69.5 522.0,76.1 518.0,75.1 500.0,72.0 480.0,68.4 460.0,61.8 441.0,53.7 428.0,50.1 413.0,46.6 405.0,46.5 398.0,48.0 394.0,49.0" fill="#f6ee10" filter="url(#b1)"/><polygon points="394.0,45.0 398.0,44.0 405.0,42.5 413.0,42.0 428.0,44.3 441.0,46.9 460.0,53.5 480.0,59.5 500.0,64.5 518.0,68.5 522.0,69.5 522.0,75.1 518.0,74.1 500.0,70.8 480.0,66.8 460.0,60.4 441.0,52.7 428.0,49.3 413.0,46.1 405.0,46.1 398.0,47.6 394.0,48.6" fill="#7df070" filter="url(#b1)"/><polygon points="394.0,45.0 398.0,44.0 405.0,42.5 413.0,42.0 428.0,44.3 441.0,46.9 460.0,53.5 480.0,59.5 500.0,64.5 518.0,68.5 522.0,69.5 522.0,74.3 518.0,73.3 500.0,69.8 480.0,65.6 460.0,59.3 441.0,51.8 428.0,48.6 413.0,45.7 405.0,45.8 398.0,47.3 394.0,48.3" fill="#18e0f0" filter="url(#b1)"/><polygon points="394.0,45.0 398.0,44.0 405.0,42.5 413.0,42.0 428.0,44.3 441.0,46.9 460.0,53.5 480.0,59.5 500.0,64.5 518.0,68.5 522.0,69.5 522.0,73.3 518.0,72.3 500.0,68.6 480.0,64.0 460.0,57.8 441.0,50.8 428.0,47.8 413.0,45.2 405.0,45.5 398.0,47.0 394.0,48.0" fill="#1040f0" filter="url(#b1)"/></g><g filter="url(#vspeck)"><g filter="url(#b3)"><ellipse cx="398.0" cy="68.0" rx="20.0" ry="13.0" transform="rotate(-40 398.0 68.0)" fill="#fff" opacity="0.75"/><ellipse cx="422.0" cy="79.0" rx="20.0" ry="7.0" transform="rotate(15 422.0 79.0)" fill="#fff" opacity="0.55"/><ellipse cx="384.0" cy="72.0" rx="8.0" ry="6.0" transform="rotate(-40 384.0 72.0)" fill="#fff" opacity="0.50"/><ellipse cx="498.0" cy="80.0" rx="12.0" ry="7.0" transform="rotate(-35 498.0 80.0)" fill="#fff" opacity="0.50"/><ellipse cx="450.0" cy="72.0" rx="14.0" ry="6.0" transform="rotate(20 450.0 72.0)" fill="#fff" opacity="0.35"/></g></g><g mask="url(#rcl)"><polygon points="394.0,45.0 398.0,44.0 405.0,42.5 413.0,42.0 428.0,44.3 441.0,46.9 460.0,53.5 480.0,59.5 500.0,64.5 518.0,68.5 522.0,69.5 522.0,76.1 518.0,75.1 500.0,72.0 480.0,68.4 460.0,61.8 441.0,53.7 428.0,50.1 413.0,46.6 405.0,46.5 398.0,48.0 394.0,49.0" fill="#f6ee10" filter="url(#b1)"/><polygon points="394.0,45.0 398.0,44.0 405.0,42.5 413.0,42.0 428.0,44.3 441.0,46.9 460.0,53.5 480.0,59.5 500.0,64.5 518.0,68.5 522.0,69.5 522.0,75.1 518.0,74.1 500.0,70.8 480.0,66.8 460.0,60.4 441.0,52.7 428.0,49.3 413.0,46.1 405.0,46.1 398.0,47.6 394.0,48.6" fill="#7df070" filter="url(#b1)"/><polygon points="394.0,45.0 398.0,44.0 405.0,42.5 413.0,42.0 428.0,44.3 441.0,46.9 460.0,53.5 480.0,59.5 500.0,64.5 518.0,68.5 522.0,69.5 522.0,74.3 518.0,73.3 500.0,69.8 480.0,65.6 460.0,59.3 441.0,51.8 428.0,48.6 413.0,45.7 405.0,45.8 398.0,47.3 394.0,48.3" fill="#18e0f0" filter="url(#b1)"/></g><polygon points="394.0,45.0 398.0,44.0 405.0,42.5 413.0,42.0 428.0,44.3 441.0,46.9 460.0,53.5 480.0,59.5 500.0,64.5 518.0,68.5 522.0,69.5 522.0,73.2 518.0,72.2 500.0,68.5 480.0,63.9 460.0,57.7 441.0,50.7 428.0,47.8 413.0,45.1 405.0,45.4 398.0,46.9 394.0,47.9" fill="#1040f0" filter="url(#b1)"/></g>
<line x1="48.2" y1="198.3" x2="91.9" y2="161.2" stroke="#d6d6d6" stroke-width="0.60"/><line x1="91.9" y1="161.2" x2="91.9" y2="151.7" stroke="#d6d6d6" stroke-width="0.60"/><line x1="70.1" y1="204.4" x2="114.2" y2="167.3" stroke="#d6d6d6" stroke-width="0.60"/><line x1="114.2" y1="167.3" x2="114.2" y2="157.8" stroke="#d6d6d6" stroke-width="0.60"/><line x1="91.7" y1="210.4" x2="136.2" y2="173.3" stroke="#d6d6d6" stroke-width="0.60"/><line x1="136.2" y1="173.3" x2="136.2" y2="163.8" stroke="#d6d6d6" stroke-width="0.60"/><line x1="113.3" y1="216.4" x2="158.2" y2="179.3" stroke="#d6d6d6" stroke-width="0.60"/><line x1="158.2" y1="179.3" x2="158.2" y2="169.8" stroke="#d6d6d6" stroke-width="0.60"/><line x1="134.9" y1="222.5" x2="180.1" y2="185.4" stroke="#d6d6d6" stroke-width="0.60"/><line x1="180.1" y1="185.4" x2="180.1" y2="175.9" stroke="#d6d6d6" stroke-width="0.60"/><line x1="153.5" y1="211.7" x2="47.5" y2="185.3" stroke="#d6d6d6" stroke-width="0.60"/><line x1="47.5" y1="185.3" x2="47.5" y2="175.8" stroke="#d6d6d6" stroke-width="0.60"/><line x1="167.5" y1="200.2" x2="61.3" y2="173.5" stroke="#d6d6d6" stroke-width="0.60"/><line x1="61.3" y1="173.5" x2="61.3" y2="164.0" stroke="#d6d6d6" stroke-width="0.60"/><line x1="181.1" y1="189.1" x2="75.0" y2="161.8" stroke="#d6d6d6" stroke-width="0.60"/><line x1="75.0" y1="161.8" x2="75.0" y2="152.3" stroke="#d6d6d6" stroke-width="0.60"/><line x1="36.2" y1="192.1" x2="79.7" y2="155.0" stroke="#d6d6d6" stroke-width="0.60"/><line x1="79.7" y1="155.0" x2="184.3" y2="183.7" stroke="#d6d6d6" stroke-width="0.60"/><line x1="36.2" y1="186.1" x2="79.7" y2="149.0" stroke="#d6d6d6" stroke-width="0.60"/><line x1="79.7" y1="149.0" x2="184.3" y2="177.7" stroke="#d6d6d6" stroke-width="0.60"/><line x1="36.2" y1="185.4" x2="79.7" y2="148.3" stroke="#d6d6d6" stroke-width="0.60"/><line x1="79.7" y1="148.3" x2="184.3" y2="177.0" stroke="#d6d6d6" stroke-width="0.60"/><line x1="184.3" y1="177.0" x2="184.3" y2="186.5" stroke="#d6d6d6" stroke-width="0.60"/><line x1="79.7" y1="148.3" x2="79.7" y2="157.8" stroke="#d6d6d6" stroke-width="0.60"/><line x1="36.2" y1="194.9" x2="79.7" y2="157.8" stroke="#d6d6d6" stroke-width="0.60"/><line x1="79.7" y1="157.8" x2="184.3" y2="186.5" stroke="#d6d6d6" stroke-width="0.60"/><line x1="36.2" y1="185.4" x2="36.2" y2="194.9" stroke="#454545" stroke-width="0.80"/><line x1="36.2" y1="194.9" x2="139.0" y2="223.6" stroke="#454545" stroke-width="0.80"/><line x1="139.0" y1="223.6" x2="184.3" y2="186.5" stroke="#454545" stroke-width="0.80"/><line x1="36.2" y1="192.1" x2="34.0" y2="192.1" stroke="#454545" stroke-width="0.70"/><line x1="36.2" y1="186.1" x2="34.0" y2="186.1" stroke="#454545" stroke-width="0.70"/><line x1="48.2" y1="198.3" x2="46.7" y2="199.5" stroke="#454545" stroke-width="0.60"/><line x1="70.1" y1="204.4" x2="68.6" y2="205.6" stroke="#454545" stroke-width="0.60"/><line x1="91.7" y1="210.4" x2="90.2" y2="211.7" stroke="#454545" stroke-width="0.60"/><line x1="113.3" y1="216.4" x2="111.8" y2="217.7" stroke="#454545" stroke-width="0.60"/><line x1="134.9" y1="222.5" x2="133.3" y2="223.7" stroke="#454545" stroke-width="0.60"/><line x1="153.5" y1="211.7" x2="155.4" y2="212.3" stroke="#454545" stroke-width="0.60"/><line x1="167.5" y1="200.2" x2="169.5" y2="200.8" stroke="#454545" stroke-width="0.60"/><line x1="181.1" y1="189.1" x2="183.1" y2="189.6" stroke="#454545" stroke-width="0.60"/>
<g mask="url(#c4)"><g filter="url(#mottle)"><rect x="30.0" y="146.0" width="160.0" height="80.0" fill="#1cb0b4"/><g filter="url(#b2)"><ellipse cx="81.0" cy="156.0" rx="8.0" ry="4.0" transform="rotate(15 81.0 156.0)" fill="#45c48c" opacity="1.00"/><ellipse cx="92.0" cy="158.0" rx="6.0" ry="2.5" transform="rotate(20 92.0 158.0)" fill="#7fca62" opacity="0.80"/><polyline points="60.0,173.0 76.0,167.0 88.0,165.5 100.0,169.0 110.0,174.5" fill="none" stroke="#1f7cf0" stroke-width="8.0" stroke-linecap="round" stroke-linejoin="round" opacity="1.00"/><polyline points="50.0,180.0 58.0,175.0" fill="none" stroke="#16a0d0" stroke-width="6.0" stroke-linecap="round" stroke-linejoin="round" opacity="1.00"/><polyline points="70.0,163.0 78.0,159.5" fill="none" stroke="#16a0d0" stroke-width="5.0" stroke-linecap="round" stroke-linejoin="round" opacity="1.00"/><polyline points="52.0,183.0 66.0,180.5 82.0,180.5 100.0,184.5" fill="none" stroke="#45c48c" stroke-width="5.5" stroke-linecap="round" stroke-linejoin="round" opacity="1.00"/><polyline points="41.0,189.5 58.0,188.0 72.0,189.5 88.0,194.5" fill="none" stroke="#2084e8" stroke-width="6.5" stroke-linecap="round" stroke-linejoin="round" opacity="1.00"/><polyline points="62.0,196.0 76.0,196.0 92.0,199.0 112.0,202.5" fill="none" stroke="#7fca62" stroke-width="5.5" stroke-linecap="round" stroke-linejoin="round" opacity="1.00"/><polyline points="84.0,198.0 100.0,200.5" fill="none" stroke="#d4c640" stroke-width="3.5" stroke-linecap="round" stroke-linejoin="round" opacity="1.00"/><polygon points="118.0,160.0 190.0,176.0 190.0,186.0 140.0,226.0 118.0,214.0 112.0,200.0 124.0,190.0 130.0,180.0 116.0,172.0" fill="#f9c22e"/><polyline points="120.0,167.5 140.0,171.0 160.0,176.5 178.0,180.0" fill="none" stroke="#f9c22e" stroke-width="9.0" stroke-linecap="round" stroke-linejoin="round" opacity="1.00"/><polyline points="112.0,166.0 122.0,168.5" fill="none" stroke="#d4c640" stroke-width="6.0" stroke-linecap="round" stroke-linejoin="round" opacity="1.00"/><polyline points="124.0,178.0 140.0,181.0 156.0,186.0" fill="none" stroke="#d4c640" stroke-width="5.0" stroke-linecap="round" stroke-linejoin="round" opacity="0.70"/><polyline points="140.0,176.0 165.0,182.0" fill="none" stroke="#fcbc26" stroke-width="5.0" stroke-linecap="round" stroke-linejoin="round" opacity="0.80"/><polyline points="108.0,186.0 120.0,184.5 130.0,185.0" fill="none" stroke="#45c48c" stroke-width="4.0" stroke-linecap="round" stroke-linejoin="round" opacity="1.00"/><polyline points="130.0,185.0 140.0,187.0" fill="none" stroke="#7fca62" stroke-width="3.0" stroke-linecap="round" stroke-linejoin="round" opacity="0.60"/><polyline points="104.0,178.0 114.0,181.0" fill="none" stroke="#1fb8aa" stroke-width="5.0" stroke-linecap="round" stroke-linejoin="round" opacity="1.00"/><polyline points="118.0,196.0 135.0,200.0 150.0,204.0" fill="none" stroke="#f9c22e" stroke-width="11.0" stroke-linecap="round" stroke-linejoin="round" opacity="1.00"/><polyline points="150.0,196.0 166.0,190.0" fill="none" stroke="#f9c22e" stroke-width="8.0" stroke-linecap="round" stroke-linejoin="round" opacity="1.00"/><polyline points="128.0,210.0 140.0,213.5" fill="none" stroke="#d4c640" stroke-width="6.0" stroke-linecap="round" stroke-linejoin="round" opacity="1.00"/><polyline points="125.0,198.0 142.0,203.0" fill="none" stroke="#fcbc26" stroke-width="5.0" stroke-linecap="round" stroke-linejoin="round" opacity="0.80"/><polyline points="108.0,207.0 120.0,210.5" fill="none" stroke="#d4c640" stroke-width="5.0" stroke-linecap="round" stroke-linejoin="round" opacity="1.00"/><polyline points="104.0,192.0 116.0,194.0" fill="none" stroke="#7fca62" stroke-width="5.0" stroke-linecap="round" stroke-linejoin="round" opacity="1.00"/><polyline points="141.0,220.0 156.0,206.5 170.0,194.5 184.0,181.5" fill="none" stroke="#1fb8aa" stroke-width="1.8" stroke-linecap="round" stroke-linejoin="round" opacity="0.80"/></g></g><polyline points="36.2,191.8 50.0,195.2 70.0,201.2 90.0,206.7 110.0,211.7 126.0,216.0" fill="none" stroke="#2a86ee" stroke-width="1.8" stroke-linecap="round" stroke-linejoin="round" opacity="0.90"/><rect x="30.0" y="146.0" width="160.0" height="80.0" fill="#fff" filter="url(#grain)"/></g>
<line x1="216.0" y1="198.3" x2="259.7" y2="161.2" stroke="#d6d6d6" stroke-width="0.60"/><line x1="259.7" y1="161.2" x2="259.7" y2="151.7" stroke="#d6d6d6" stroke-width="0.60"/><line x1="237.9" y1="204.4" x2="282.0" y2="167.3" stroke="#d6d6d6" stroke-width="0.60"/><line x1="282.0" y1="167.3" x2="282.0" y2="157.8" stroke="#d6d6d6" stroke-width="0.60"/><line x1="259.5" y1="210.4" x2="304.0" y2="173.3" stroke="#d6d6d6" stroke-width="0.60"/><line x1="304.0" y1="173.3" x2="304.0" y2="163.8" stroke="#d6d6d6" stroke-width="0.60"/><line x1="281.1" y1="216.4" x2="326.0" y2="179.3" stroke="#d6d6d6" stroke-width="0.60"/><line x1="326.0" y1="179.3" x2="326.0" y2="169.8" stroke="#d6d6d6" stroke-width="0.60"/><line x1="302.7" y1="222.5" x2="347.9" y2="185.4" stroke="#d6d6d6" stroke-width="0.60"/><line x1="347.9" y1="185.4" x2="347.9" y2="175.9" stroke="#d6d6d6" stroke-width="0.60"/><line x1="321.3" y1="211.7" x2="215.3" y2="185.3" stroke="#d6d6d6" stroke-width="0.60"/><line x1="215.3" y1="185.3" x2="215.3" y2="175.8" stroke="#d6d6d6" stroke-width="0.60"/><line x1="335.3" y1="200.2" x2="229.1" y2="173.5" stroke="#d6d6d6" stroke-width="0.60"/><line x1="229.1" y1="173.5" x2="229.1" y2="164.0" stroke="#d6d6d6" stroke-width="0.60"/><line x1="348.9" y1="189.1" x2="242.8" y2="161.8" stroke="#d6d6d6" stroke-width="0.60"/><line x1="242.8" y1="161.8" x2="242.8" y2="152.3" stroke="#d6d6d6" stroke-width="0.60"/><line x1="204.0" y1="192.1" x2="247.5" y2="155.0" stroke="#d6d6d6" stroke-width="0.60"/><line x1="247.5" y1="155.0" x2="352.1" y2="183.7" stroke="#d6d6d6" stroke-width="0.60"/><line x1="204.0" y1="186.1" x2="247.5" y2="149.0" stroke="#d6d6d6" stroke-width="0.60"/><line x1="247.5" y1="149.0" x2="352.1" y2="177.7" stroke="#d6d6d6" stroke-width="0.60"/><line x1="204.0" y1="185.4" x2="247.5" y2="148.3" stroke="#d6d6d6" stroke-width="0.60"/><line x1="247.5" y1="148.3" x2="352.1" y2="177.0" stroke="#d6d6d6" stroke-width="0.60"/><line x1="352.1" y1="177.0" x2="352.1" y2="186.5" stroke="#d6d6d6" stroke-width="0.60"/><line x1="247.5" y1="148.3" x2="247.5" y2="157.8" stroke="#d6d6d6" stroke-width="0.60"/><line x1="204.0" y1="194.9" x2="247.5" y2="157.8" stroke="#d6d6d6" stroke-width="0.60"/><line x1="247.5" y1="157.8" x2="352.1" y2="186.5" stroke="#d6d6d6" stroke-width="0.60"/><line x1="204.0" y1="185.4" x2="204.0" y2="194.9" stroke="#454545" stroke-width="0.80"/><line x1="204.0" y1="194.9" x2="306.8" y2="223.6" stroke="#454545" stroke-width="0.80"/><line x1="306.8" y1="223.6" x2="352.1" y2="186.5" stroke="#454545" stroke-width="0.80"/><line x1="204.0" y1="192.1" x2="201.8" y2="192.1" stroke="#454545" stroke-width="0.70"/><line x1="204.0" y1="186.1" x2="201.8" y2="186.1" stroke="#454545" stroke-width="0.70"/><line x1="216.0" y1="198.3" x2="214.5" y2="199.5" stroke="#454545" stroke-width="0.60"/><line x1="237.9" y1="204.4" x2="236.4" y2="205.6" stroke="#454545" stroke-width="0.60"/><line x1="259.5" y1="210.4" x2="258.0" y2="211.7" stroke="#454545" stroke-width="0.60"/><line x1="281.1" y1="216.4" x2="279.6" y2="217.7" stroke="#454545" stroke-width="0.60"/><line x1="302.7" y1="222.5" x2="301.1" y2="223.7" stroke="#454545" stroke-width="0.60"/><line x1="321.3" y1="211.7" x2="323.2" y2="212.3" stroke="#454545" stroke-width="0.60"/><line x1="335.3" y1="200.2" x2="337.3" y2="200.8" stroke="#454545" stroke-width="0.60"/><line x1="348.9" y1="189.1" x2="350.9" y2="189.6" stroke="#454545" stroke-width="0.60"/>
<g mask="url(#c5)"><rect x="198.0" y="146.0" width="160.0" height="80.0" fill="#1670a6"/><rect x="261.6" y="174.7" width="1.1" height="0.7" fill="#e4572a"/><rect x="267.6" y="175.7" width="0.7" height="0.7" fill="#e4572a"/></g><polyline points="204.0,192.4 217.8,195.8 237.8,201.8 257.8,207.3 277.8,212.3 297.8,217.8 307.8,221.1 323.8,205.6 337.8,193.6 352.3,180.1" fill="none" stroke="#e4572a" stroke-width="0.7"/>
<line x1="383.3" y1="195.9" x2="427.5" y2="159.9" stroke="#d6d6d6" stroke-width="0.60"/><line x1="427.5" y1="159.9" x2="427.5" y2="154.1" stroke="#d6d6d6" stroke-width="0.60"/><line x1="405.2" y1="202.3" x2="449.9" y2="166.2" stroke="#d6d6d6" stroke-width="0.60"/><line x1="449.9" y1="166.2" x2="449.9" y2="160.4" stroke="#d6d6d6" stroke-width="0.60"/><line x1="426.8" y1="208.7" x2="471.8" y2="172.4" stroke="#d6d6d6" stroke-width="0.60"/><line x1="471.8" y1="172.4" x2="471.8" y2="166.6" stroke="#d6d6d6" stroke-width="0.60"/><line x1="448.3" y1="215.0" x2="493.8" y2="178.6" stroke="#d6d6d6" stroke-width="0.60"/><line x1="493.8" y1="178.6" x2="493.8" y2="172.8" stroke="#d6d6d6" stroke-width="0.60"/><line x1="469.9" y1="221.3" x2="515.8" y2="184.8" stroke="#d6d6d6" stroke-width="0.60"/><line x1="515.8" y1="184.8" x2="515.8" y2="179.0" stroke="#d6d6d6" stroke-width="0.60"/><line x1="488.7" y1="210.8" x2="382.7" y2="183.0" stroke="#d6d6d6" stroke-width="0.60"/><line x1="382.7" y1="183.0" x2="382.7" y2="177.2" stroke="#d6d6d6" stroke-width="0.60"/><line x1="503.0" y1="199.5" x2="396.6" y2="171.7" stroke="#d6d6d6" stroke-width="0.60"/><line x1="396.6" y1="171.7" x2="396.6" y2="165.9" stroke="#d6d6d6" stroke-width="0.60"/><line x1="516.8" y1="188.6" x2="410.6" y2="160.3" stroke="#d6d6d6" stroke-width="0.60"/><line x1="410.6" y1="160.3" x2="410.6" y2="154.5" stroke="#d6d6d6" stroke-width="0.60"/><line x1="371.3" y1="191.5" x2="415.3" y2="155.5" stroke="#d6d6d6" stroke-width="0.60"/><line x1="415.3" y1="155.5" x2="520.0" y2="185.1" stroke="#d6d6d6" stroke-width="0.60"/><line x1="371.3" y1="189.7" x2="415.3" y2="153.7" stroke="#d6d6d6" stroke-width="0.60"/><line x1="415.3" y1="153.7" x2="520.0" y2="183.3" stroke="#d6d6d6" stroke-width="0.60"/><line x1="371.3" y1="187.8" x2="415.3" y2="151.8" stroke="#d6d6d6" stroke-width="0.60"/><line x1="415.3" y1="151.8" x2="520.0" y2="181.4" stroke="#d6d6d6" stroke-width="0.60"/><line x1="371.3" y1="186.6" x2="415.3" y2="150.6" stroke="#d6d6d6" stroke-width="0.60"/><line x1="415.3" y1="150.6" x2="520.0" y2="180.2" stroke="#d6d6d6" stroke-width="0.60"/><line x1="520.0" y1="180.2" x2="520.0" y2="186.0" stroke="#d6d6d6" stroke-width="0.60"/><line x1="415.3" y1="150.6" x2="415.3" y2="156.4" stroke="#d6d6d6" stroke-width="0.60"/><line x1="371.3" y1="192.4" x2="415.3" y2="156.4" stroke="#d6d6d6" stroke-width="0.60"/><line x1="415.3" y1="156.4" x2="520.0" y2="186.0" stroke="#d6d6d6" stroke-width="0.60"/><line x1="371.3" y1="186.6" x2="371.3" y2="192.4" stroke="#454545" stroke-width="0.80"/><line x1="371.3" y1="192.4" x2="474.0" y2="222.5" stroke="#454545" stroke-width="0.80"/><line x1="474.0" y1="222.5" x2="520.0" y2="186.0" stroke="#454545" stroke-width="0.80"/><line x1="371.3" y1="191.5" x2="369.1" y2="191.5" stroke="#454545" stroke-width="0.70"/><line x1="371.3" y1="189.7" x2="369.1" y2="189.7" stroke="#454545" stroke-width="0.70"/><line x1="371.3" y1="187.8" x2="369.1" y2="187.8" stroke="#454545" stroke-width="0.70"/><line x1="383.3" y1="195.9" x2="381.7" y2="197.2" stroke="#454545" stroke-width="0.60"/><line x1="405.2" y1="202.3" x2="403.6" y2="203.6" stroke="#454545" stroke-width="0.60"/><line x1="426.8" y1="208.7" x2="425.2" y2="209.9" stroke="#454545" stroke-width="0.60"/><line x1="448.3" y1="215.0" x2="446.8" y2="216.2" stroke="#454545" stroke-width="0.60"/><line x1="469.9" y1="221.3" x2="468.3" y2="222.5" stroke="#454545" stroke-width="0.60"/><line x1="488.7" y1="210.8" x2="490.6" y2="211.4" stroke="#454545" stroke-width="0.60"/><line x1="503.0" y1="199.5" x2="504.9" y2="200.1" stroke="#454545" stroke-width="0.60"/><line x1="516.8" y1="188.6" x2="518.7" y2="189.1" stroke="#454545" stroke-width="0.60"/>
<g mask="url(#c6)"><g filter="url(#speck)"><rect x="366.0" y="146.0" width="158.0" height="80.0" fill="#18e0f0"/><g filter="url(#b2)"><rect x="440" y="150" width="90" height="80" fill="#d8f040"/><ellipse cx="416.0" cy="154.0" rx="5.0" ry="3.0" transform="rotate(10 416.0 154.0)" fill="#f6ee10" opacity="1.00"/><ellipse cx="420.0" cy="157.0" rx="7.0" ry="3.5" transform="rotate(10 420.0 157.0)" fill="#18e0f0" opacity="1.00"/><polyline points="399.0,166.5 408.0,163.0 425.0,163.5 444.0,165.0" fill="none" stroke="#0a10b0" stroke-width="8.0" stroke-linecap="round" stroke-linejoin="round" opacity="1.00"/><polyline points="444.0,165.0 452.0,166.5" fill="none" stroke="#1040f0" stroke-width="5.0" stroke-linecap="round" stroke-linejoin="round" opacity="1.00"/><polyline points="389.0,177.0 405.0,171.5 422.0,169.5 436.0,170.5" fill="none" stroke="#18e0f0" stroke-width="4.5" stroke-linecap="round" stroke-linejoin="round" opacity="1.00"/><polyline points="436.0,170.5 450.0,171.5" fill="none" stroke="#7df070" stroke-width="4.5" stroke-linecap="round" stroke-linejoin="round" opacity="1.00"/><ellipse cx="455.0" cy="168.0" rx="5.0" ry="4.0" transform="rotate(0 455.0 168.0)" fill="#7df070" opacity="1.00"/><ellipse cx="462.0" cy="168.0" rx="4.0" ry="4.0" transform="rotate(0 462.0 168.0)" fill="#f6ee10" opacity="1.00"/><polyline points="379.0,187.8 392.0,186.0 404.0,185.5 416.0,181.5 428.0,177.0" fill="none" stroke="#0a10b0" stroke-width="9.5" stroke-linecap="round" stroke-linejoin="round" opacity="1.00"/><polyline points="428.0,177.0 440.0,175.0" fill="none" stroke="#1040f0" stroke-width="5.0" stroke-linecap="round" stroke-linejoin="round" opacity="0.90"/><ellipse cx="375.0" cy="191.0" rx="4.0" ry="2.0" transform="rotate(0 375.0 191.0)" fill="#18e0f0" opacity="1.00"/><polyline points="380.0,193.0 395.0,196.0 412.0,198.0" fill="none" stroke="#18e0f0" stroke-width="5.0" stroke-linecap="round" stroke-linejoin="round" opacity="1.00"/><polyline points="412.0,194.5 424.0,194.0 436.0,197.0 446.0,200.5" fill="none" stroke="#2aa0ff" stroke-width="5.0" stroke-linecap="round" stroke-linejoin="round" opacity="1.00"/><polyline points="415.0,188.0 430.0,185.0 445.0,183.5" fill="none" stroke="#7df070" stroke-width="6.0" stroke-linecap="round" stroke-linejoin="round" opacity="1.00"/><polyline points="436.0,189.0 452.0,188.0 462.0,189.5" fill="none" stroke="#18e0f0" stroke-width="5.0" stroke-linecap="round" stroke-linejoin="round" opacity="0.85"/><polyline points="440.0,177.0 452.0,176.0" fill="none" stroke="#7df070" stroke-width="6.0" stroke-linecap="round" stroke-linejoin="round" opacity="1.00"/><polyline points="445.0,180.5 458.0,179.0 470.0,180.5 494.0,185.5" fill="none" stroke="#f6ee10" stroke-width="6.0" stroke-linecap="round" stroke-linejoin="round" opacity="1.00"/><polyline points="464.0,169.5 478.0,172.5 490.0,176.0" fill="none" stroke="#e81010" stroke-width="10.0" stroke-linecap="round" stroke-linejoin="round" opacity="1.00"/><polyline points="470.0,170.5 484.0,174.0" fill="none" stroke="#d80808" stroke-width="5.0" stroke-linecap="round" stroke-linejoin="round" opacity="1.00"/><polyline points="458.0,168.0 464.0,169.5" fill="none" stroke="#ff8a00" stroke-width="6.0" stroke-linecap="round" stroke-linejoin="round" opacity="1.00"/><polyline points="497.0,180.5 506.0,184.0 514.0,183.5" fill="none" stroke="#e81010" stroke-width="10.5" stroke-linecap="round" stroke-linejoin="round" opacity="1.00"/><polyline points="486.0,191.0 494.0,187.0" fill="none" stroke="#e81010" stroke-width="7.0" stroke-linecap="round" stroke-linejoin="round" opacity="1.00"/><polyline points="502.0,191.0 508.0,187.5" fill="none" stroke="#ff8a00" stroke-width="5.0" stroke-linecap="round" stroke-linejoin="round" opacity="1.00"/><ellipse cx="471.0" cy="193.0" rx="9.0" ry="4.5" transform="rotate(10 471.0 193.0)" fill="#f6ee10" opacity="1.00"/><ellipse cx="483.0" cy="200.0" rx="7.0" ry="5.0" transform="rotate(-30 483.0 200.0)" fill="#ff8a00" opacity="1.00"/><ellipse cx="440.0" cy="199.0" rx="5.0" ry="3.0" transform="rotate(15 440.0 199.0)" fill="#18e0f0" opacity="1.00"/><ellipse cx="448.0" cy="202.5" rx="6.0" ry="4.5" transform="rotate(20 448.0 202.5)" fill="#7df070" opacity="1.00"/><ellipse cx="452.0" cy="206.0" rx="5.0" ry="3.0" transform="rotate(15 452.0 206.0)" fill="#f6ee10" opacity="1.00"/><polyline points="456.0,206.0 467.0,209.5 478.0,210.0" fill="none" stroke="#e81010" stroke-width="10.5" stroke-linecap="round" stroke-linejoin="round" opacity="1.00"/><polyline points="436.0,205.5 446.0,208.5" fill="none" stroke="#7df070" stroke-width="3.0" stroke-linecap="round" stroke-linejoin="round" opacity="1.00"/></g></g><g filter="url(#vspeck)"><g filter="url(#b3)"><ellipse cx="412.0" cy="176.0" rx="16.0" ry="4.0" transform="rotate(-15 412.0 176.0)" fill="#fff" opacity="0.70"/><ellipse cx="396.0" cy="196.0" rx="14.0" ry="3.0" transform="rotate(15 396.0 196.0)" fill="#fff" opacity="0.60"/><ellipse cx="452.0" cy="190.0" rx="16.0" ry="4.0" transform="rotate(8 452.0 190.0)" fill="#fff" opacity="0.60"/><ellipse cx="476.0" cy="186.0" rx="10.0" ry="4.0" transform="rotate(15 476.0 186.0)" fill="#fff" opacity="0.50"/><ellipse cx="425.0" cy="200.0" rx="10.0" ry="3.0" transform="rotate(15 425.0 200.0)" fill="#fff" opacity="0.50"/></g></g></g>
<line x1="48.1" y1="315.2" x2="94.2" y2="276.7" stroke="#d6d6d6" stroke-width="0.60"/><line x1="94.2" y1="276.7" x2="94.2" y2="265.9" stroke="#d6d6d6" stroke-width="0.60"/><line x1="69.8" y1="321.4" x2="115.9" y2="282.9" stroke="#d6d6d6" stroke-width="0.60"/><line x1="115.9" y1="282.9" x2="115.9" y2="272.1" stroke="#d6d6d6" stroke-width="0.60"/><line x1="91.2" y1="327.6" x2="137.2" y2="289.0" stroke="#d6d6d6" stroke-width="0.60"/><line x1="137.2" y1="289.0" x2="137.2" y2="278.2" stroke="#d6d6d6" stroke-width="0.60"/><line x1="112.5" y1="333.7" x2="158.6" y2="295.1" stroke="#d6d6d6" stroke-width="0.60"/><line x1="158.6" y1="295.1" x2="158.6" y2="284.3" stroke="#d6d6d6" stroke-width="0.60"/><line x1="133.9" y1="339.8" x2="179.9" y2="301.2" stroke="#d6d6d6" stroke-width="0.60"/><line x1="179.9" y1="301.2" x2="179.9" y2="290.4" stroke="#d6d6d6" stroke-width="0.60"/><line x1="152.7" y1="328.6" x2="48.2" y2="301.8" stroke="#d6d6d6" stroke-width="0.60"/><line x1="48.2" y1="301.8" x2="48.2" y2="291.0" stroke="#d6d6d6" stroke-width="0.60"/><line x1="167.0" y1="316.7" x2="62.8" y2="289.6" stroke="#d6d6d6" stroke-width="0.60"/><line x1="62.8" y1="289.6" x2="62.8" y2="278.8" stroke="#d6d6d6" stroke-width="0.60"/><line x1="180.8" y1="305.1" x2="77.4" y2="277.4" stroke="#d6d6d6" stroke-width="0.60"/><line x1="77.4" y1="277.4" x2="77.4" y2="266.6" stroke="#d6d6d6" stroke-width="0.60"/><line x1="36.2" y1="306.7" x2="82.3" y2="268.2" stroke="#d6d6d6" stroke-width="0.60"/><line x1="82.3" y1="268.2" x2="184.0" y2="297.3" stroke="#d6d6d6" stroke-width="0.60"/><line x1="36.2" y1="301.6" x2="82.3" y2="263.1" stroke="#d6d6d6" stroke-width="0.60"/><line x1="82.3" y1="263.1" x2="184.0" y2="292.2" stroke="#d6d6d6" stroke-width="0.60"/><line x1="36.2" y1="301.0" x2="82.3" y2="262.5" stroke="#d6d6d6" stroke-width="0.60"/><line x1="82.3" y1="262.5" x2="184.0" y2="291.6" stroke="#d6d6d6" stroke-width="0.60"/><line x1="184.0" y1="291.6" x2="184.0" y2="302.4" stroke="#d6d6d6" stroke-width="0.60"/><line x1="82.3" y1="262.5" x2="82.3" y2="273.3" stroke="#d6d6d6" stroke-width="0.60"/><line x1="36.2" y1="311.8" x2="82.3" y2="273.3" stroke="#d6d6d6" stroke-width="0.60"/><line x1="82.3" y1="273.3" x2="184.0" y2="302.4" stroke="#d6d6d6" stroke-width="0.60"/><line x1="36.2" y1="301.0" x2="36.2" y2="311.8" stroke="#454545" stroke-width="0.80"/><line x1="36.2" y1="311.8" x2="138.0" y2="341.0" stroke="#454545" stroke-width="0.80"/><line x1="138.0" y1="341.0" x2="184.0" y2="302.4" stroke="#454545" stroke-width="0.80"/><line x1="36.2" y1="306.7" x2="34.0" y2="306.7" stroke="#454545" stroke-width="0.70"/><line x1="36.2" y1="301.6" x2="34.0" y2="301.6" stroke="#454545" stroke-width="0.70"/><line x1="48.1" y1="315.2" x2="46.6" y2="316.5" stroke="#454545" stroke-width="0.60"/><line x1="69.8" y1="321.4" x2="68.3" y2="322.7" stroke="#454545" stroke-width="0.60"/><line x1="91.2" y1="327.6" x2="89.6" y2="328.9" stroke="#454545" stroke-width="0.60"/><line x1="112.5" y1="333.7" x2="111.0" y2="335.0" stroke="#454545" stroke-width="0.60"/><line x1="133.9" y1="339.8" x2="132.4" y2="341.1" stroke="#454545" stroke-width="0.60"/><line x1="152.7" y1="328.6" x2="154.6" y2="329.2" stroke="#454545" stroke-width="0.60"/><line x1="167.0" y1="316.7" x2="168.9" y2="317.2" stroke="#454545" stroke-width="0.60"/><line x1="180.8" y1="305.1" x2="182.7" y2="305.7" stroke="#454545" stroke-width="0.60"/>
<g mask="url(#c7)"><g filter="url(#mottle)"><rect x="30.0" y="262.0" width="160.0" height="78.0" fill="#efc238"/><g filter="url(#b2)"><polyline points="40.0,306.5 52.0,297.0 66.0,284.0 80.0,270.0" fill="none" stroke="#1fb8aa" stroke-width="8.0" stroke-linecap="round" stroke-linejoin="round" opacity="1.00"/><polyline points="38.0,309.5 46.0,304.0" fill="none" stroke="#16a0d0" stroke-width="4.0" stroke-linecap="round" stroke-linejoin="round" opacity="1.00"/><polyline points="77.0,281.5 82.0,277.0 86.0,274.0" fill="none" stroke="#1f7cf0" stroke-width="7.5" stroke-linecap="round" stroke-linejoin="round" opacity="1.00"/><polyline points="56.0,298.0 63.0,292.0" fill="none" stroke="#2a86de" stroke-width="4.5" stroke-linecap="round" stroke-linejoin="round" opacity="1.00"/><ellipse cx="86.0" cy="268.5" rx="6.0" ry="2.5" transform="rotate(15 86.0 268.5)" fill="#7fca62" opacity="1.00"/><polyline points="52.0,306.0 66.0,297.0 80.0,289.0 92.0,283.0" fill="none" stroke="#7fca62" stroke-width="11.0" stroke-linecap="round" stroke-linejoin="round" opacity="1.00"/><polyline points="60.0,311.0 74.0,305.0 86.0,297.0" fill="none" stroke="#7fca62" stroke-width="9.0" stroke-linecap="round" stroke-linejoin="round" opacity="0.80"/><polyline points="70.0,300.0 82.0,296.0" fill="none" stroke="#d4c640" stroke-width="5.0" stroke-linecap="round" stroke-linejoin="round" opacity="1.00"/><polyline points="50.0,313.0 70.0,318.0" fill="none" stroke="#45c48c" stroke-width="3.0" stroke-linecap="round" stroke-linejoin="round" opacity="1.00"/><polyline points="96.0,276.0 120.0,280.0 145.0,285.0 170.0,291.5" fill="none" stroke="#f9c22e" stroke-width="10.0" stroke-linecap="round" stroke-linejoin="round" opacity="1.00"/><polyline points="98.0,290.0 120.0,296.0 140.0,300.0" fill="none" stroke="#f9c22e" stroke-width="16.0" stroke-linecap="round" stroke-linejoin="round" opacity="1.00"/><polyline points="90.0,308.0 110.0,313.0 132.0,318.0" fill="none" stroke="#f9c22e" stroke-width="15.0" stroke-linecap="round" stroke-linejoin="round" opacity="1.00"/><polyline points="80.0,318.5 100.0,322.5 125.0,328.0" fill="none" stroke="#f9c22e" stroke-width="6.0" stroke-linecap="round" stroke-linejoin="round" opacity="1.00"/><polyline points="100.0,284.0 116.0,292.0 124.0,303.0" fill="none" stroke="#d4c640" stroke-width="4.0" stroke-linecap="round" stroke-linejoin="round" opacity="0.70"/><polyline points="120.0,310.0 136.0,306.0" fill="none" stroke="#d4c640" stroke-width="4.0" stroke-linecap="round" stroke-linejoin="round" opacity="0.60"/><polyline points="148.0,296.0 164.0,300.0 178.0,301.0" fill="none" stroke="#7fca62" stroke-width="10.0" stroke-linecap="round" stroke-linejoin="round" opacity="1.00"/><polyline points="144.0,306.0 156.0,312.0" fill="none" stroke="#7fca62" stroke-width="10.0" stroke-linecap="round" stroke-linejoin="round" opacity="1.00"/><polyline points="138.0,322.0 148.0,326.5" fill="none" stroke="#7fca62" stroke-width="8.0" stroke-linecap="round" stroke-linejoin="round" opacity="1.00"/><polyline points="156.0,302.0 168.0,303.0 176.0,301.0" fill="none" stroke="#45c48c" stroke-width="6.0" stroke-linecap="round" stroke-linejoin="round" opacity="1.00"/><polyline points="150.0,310.0 158.0,316.0" fill="none" stroke="#45c48c" stroke-width="6.0" stroke-linecap="round" stroke-linejoin="round" opacity="1.00"/><polyline points="139.5,335.0 150.0,327.2 160.0,318.8 170.0,309.8 184.0,298.0" fill="none" stroke="#1fb8aa" stroke-width="3.5" stroke-linecap="round" stroke-linejoin="round" opacity="1.00"/><polyline points="153.0,305.0 159.0,311.0 163.0,317.0" fill="none" stroke="#1f7cf0" stroke-width="4.5" stroke-linecap="round" stroke-linejoin="round" opacity="0.90"/><polyline points="160.0,316.0 166.0,311.5" fill="none" stroke="#1f7cf0" stroke-width="3.5" stroke-linecap="round" stroke-linejoin="round" opacity="1.00"/><ellipse cx="163.6" cy="317.6" rx="3.0" ry="2.6" transform="rotate(0 163.6 317.6)" fill="#3a4fe0" opacity="1.00"/></g></g><polyline points="36.2,311.0 50.0,314.7 70.0,319.7 90.0,323.7 110.0,327.7" fill="none" stroke="#30a8d8" stroke-width="1.6" stroke-linecap="round" stroke-linejoin="round" opacity="0.90"/><rect x="30.0" y="262.0" width="160.0" height="78.0" fill="#fff" filter="url(#grain)"/></g>
<line x1="215.9" y1="315.2" x2="262.0" y2="276.7" stroke="#d6d6d6" stroke-width="0.60"/><line x1="262.0" y1="276.7" x2="262.0" y2="265.9" stroke="#d6d6d6" stroke-width="0.60"/><line x1="237.6" y1="321.4" x2="283.7" y2="282.9" stroke="#d6d6d6" stroke-width="0.60"/><line x1="283.7" y1="282.9" x2="283.7" y2="272.1" stroke="#d6d6d6" stroke-width="0.60"/><line x1="259.0" y1="327.6" x2="305.0" y2="289.0" stroke="#d6d6d6" stroke-width="0.60"/><line x1="305.0" y1="289.0" x2="305.0" y2="278.2" stroke="#d6d6d6" stroke-width="0.60"/><line x1="280.4" y1="333.7" x2="326.4" y2="295.1" stroke="#d6d6d6" stroke-width="0.60"/><line x1="326.4" y1="295.1" x2="326.4" y2="284.3" stroke="#d6d6d6" stroke-width="0.60"/><line x1="301.7" y1="339.8" x2="347.7" y2="301.2" stroke="#d6d6d6" stroke-width="0.60"/><line x1="347.7" y1="301.2" x2="347.7" y2="290.4" stroke="#d6d6d6" stroke-width="0.60"/><line x1="320.5" y1="328.6" x2="216.0" y2="301.8" stroke="#d6d6d6" stroke-width="0.60"/><line x1="216.0" y1="301.8" x2="216.0" y2="291.0" stroke="#d6d6d6" stroke-width="0.60"/><line x1="334.8" y1="316.7" x2="230.6" y2="289.6" stroke="#d6d6d6" stroke-width="0.60"/><line x1="230.6" y1="289.6" x2="230.6" y2="278.8" stroke="#d6d6d6" stroke-width="0.60"/><line x1="348.6" y1="305.1" x2="245.2" y2="277.4" stroke="#d6d6d6" stroke-width="0.60"/><line x1="245.2" y1="277.4" x2="245.2" y2="266.6" stroke="#d6d6d6" stroke-width="0.60"/><line x1="204.0" y1="306.7" x2="250.1" y2="268.2" stroke="#d6d6d6" stroke-width="0.60"/><line x1="250.1" y1="268.2" x2="351.8" y2="297.3" stroke="#d6d6d6" stroke-width="0.60"/><line x1="204.0" y1="301.6" x2="250.1" y2="263.1" stroke="#d6d6d6" stroke-width="0.60"/><line x1="250.1" y1="263.1" x2="351.8" y2="292.2" stroke="#d6d6d6" stroke-width="0.60"/><line x1="204.0" y1="301.0" x2="250.1" y2="262.5" stroke="#d6d6d6" stroke-width="0.60"/><line x1="250.1" y1="262.5" x2="351.8" y2="291.6" stroke="#d6d6d6" stroke-width="0.60"/><line x1="351.8" y1="291.6" x2="351.8" y2="302.4" stroke="#d6d6d6" stroke-width="0.60"/><line x1="250.1" y1="262.5" x2="250.1" y2="273.3" stroke="#d6d6d6" stroke-width="0.60"/><line x1="204.0" y1="311.8" x2="250.1" y2="273.3" stroke="#d6d6d6" stroke-width="0.60"/><line x1="250.1" y1="273.3" x2="351.8" y2="302.4" stroke="#d6d6d6" stroke-width="0.60"/><line x1="204.0" y1="301.0" x2="204.0" y2="311.8" stroke="#454545" stroke-width="0.80"/><line x1="204.0" y1="311.8" x2="305.8" y2="341.0" stroke="#454545" stroke-width="0.80"/><line x1="305.8" y1="341.0" x2="351.8" y2="302.4" stroke="#454545" stroke-width="0.80"/><line x1="204.0" y1="306.7" x2="201.8" y2="306.7" stroke="#454545" stroke-width="0.70"/><line x1="204.0" y1="301.6" x2="201.8" y2="301.6" stroke="#454545" stroke-width="0.70"/><line x1="215.9" y1="315.2" x2="214.4" y2="316.5" stroke="#454545" stroke-width="0.60"/><line x1="237.6" y1="321.4" x2="236.1" y2="322.7" stroke="#454545" stroke-width="0.60"/><line x1="259.0" y1="327.6" x2="257.4" y2="328.9" stroke="#454545" stroke-width="0.60"/><line x1="280.4" y1="333.7" x2="278.8" y2="335.0" stroke="#454545" stroke-width="0.60"/><line x1="301.7" y1="339.8" x2="300.2" y2="341.1" stroke="#454545" stroke-width="0.60"/><line x1="320.5" y1="328.6" x2="322.4" y2="329.2" stroke="#454545" stroke-width="0.60"/><line x1="334.8" y1="316.7" x2="336.7" y2="317.2" stroke="#454545" stroke-width="0.60"/><line x1="348.6" y1="305.1" x2="350.5" y2="305.7" stroke="#454545" stroke-width="0.60"/>
<g mask="url(#c8)"><rect x="198.0" y="262.0" width="160.0" height="78.0" fill="#1670a6"/><rect x="245.4" y="277.4" width="1.9" height="1.2" fill="#e4572a"/><rect x="247.4" y="275.4" width="1.2" height="1.2" fill="#e4572a"/><rect x="249.4" y="274.9" width="1.2" height="2.2" fill="#e4572a"/><rect x="251.4" y="276.4" width="1.9" height="1.2" fill="#e4572a"/><rect x="246.4" y="279.4" width="1.2" height="1.2" fill="#e4572a"/><rect x="250.4" y="278.4" width="1.2" height="2.2" fill="#e4572a"/><rect x="248.4" y="280.9" width="1.9" height="1.2" fill="#e4572a"/><rect x="252.4" y="287.4" width="1.2" height="1.2" fill="#e4572a"/><rect x="250.4" y="290.4" width="1.2" height="2.2" fill="#e4572a"/><rect x="254.4" y="294.4" width="1.9" height="1.2" fill="#e4572a"/><rect x="261.4" y="289.4" width="1.2" height="1.2" fill="#e4572a"/><rect x="264.4" y="288.4" width="1.2" height="2.2" fill="#e4572a"/><rect x="263.4" y="295.4" width="1.9" height="1.2" fill="#e4572a"/><rect x="319.4" y="305.4" width="1.2" height="1.2" fill="#e4572a"/><rect x="331.4" y="317.4" width="1.2" height="2.2" fill="#e4572a"/><rect x="299.4" y="329.4" width="1.9" height="1.2" fill="#e4572a"/></g><polyline points="204.0,312.0 217.8,315.7 237.8,320.7 257.8,324.7 277.8,328.7 297.8,333.2 306.8,336.8 317.8,328.6 327.8,320.0 337.8,311.0 352.3,299.0" fill="none" stroke="#e4572a" stroke-width="1.2"/>
<line x1="383.8" y1="314.7" x2="429.7" y2="275.3" stroke="#d6d6d6" stroke-width="0.60"/><line x1="429.7" y1="275.3" x2="429.7" y2="267.0" stroke="#d6d6d6" stroke-width="0.60"/><line x1="405.8" y1="321.0" x2="451.7" y2="281.6" stroke="#d6d6d6" stroke-width="0.60"/><line x1="451.7" y1="281.6" x2="451.7" y2="273.3" stroke="#d6d6d6" stroke-width="0.60"/><line x1="427.5" y1="327.3" x2="473.4" y2="287.8" stroke="#d6d6d6" stroke-width="0.60"/><line x1="473.4" y1="287.8" x2="473.4" y2="279.5" stroke="#d6d6d6" stroke-width="0.60"/><line x1="449.2" y1="333.6" x2="495.1" y2="294.0" stroke="#d6d6d6" stroke-width="0.60"/><line x1="495.1" y1="294.0" x2="495.1" y2="285.6" stroke="#d6d6d6" stroke-width="0.60"/><line x1="470.9" y1="339.8" x2="516.9" y2="300.1" stroke="#d6d6d6" stroke-width="0.60"/><line x1="516.9" y1="300.1" x2="516.9" y2="291.8" stroke="#d6d6d6" stroke-width="0.60"/><line x1="489.7" y1="328.3" x2="383.6" y2="301.0" stroke="#d6d6d6" stroke-width="0.60"/><line x1="383.6" y1="301.0" x2="383.6" y2="292.7" stroke="#d6d6d6" stroke-width="0.60"/><line x1="504.0" y1="316.0" x2="398.1" y2="288.6" stroke="#d6d6d6" stroke-width="0.60"/><line x1="398.1" y1="288.6" x2="398.1" y2="280.3" stroke="#d6d6d6" stroke-width="0.60"/><line x1="517.8" y1="304.1" x2="412.7" y2="276.1" stroke="#d6d6d6" stroke-width="0.60"/><line x1="412.7" y1="276.1" x2="412.7" y2="267.8" stroke="#d6d6d6" stroke-width="0.60"/><line x1="371.7" y1="309.5" x2="417.6" y2="270.2" stroke="#d6d6d6" stroke-width="0.60"/><line x1="417.6" y1="270.2" x2="521.0" y2="299.6" stroke="#d6d6d6" stroke-width="0.60"/><line x1="371.7" y1="307.5" x2="417.6" y2="268.2" stroke="#d6d6d6" stroke-width="0.60"/><line x1="417.6" y1="268.2" x2="521.0" y2="297.6" stroke="#d6d6d6" stroke-width="0.60"/><line x1="371.7" y1="305.6" x2="417.6" y2="266.3" stroke="#d6d6d6" stroke-width="0.60"/><line x1="417.6" y1="266.3" x2="521.0" y2="295.7" stroke="#d6d6d6" stroke-width="0.60"/><line x1="371.7" y1="303.5" x2="417.6" y2="264.2" stroke="#d6d6d6" stroke-width="0.60"/><line x1="417.6" y1="264.2" x2="521.0" y2="293.6" stroke="#d6d6d6" stroke-width="0.60"/><line x1="371.7" y1="302.9" x2="417.6" y2="263.6" stroke="#d6d6d6" stroke-width="0.60"/><line x1="417.6" y1="263.6" x2="521.0" y2="293.0" stroke="#d6d6d6" stroke-width="0.60"/><line x1="521.0" y1="293.0" x2="521.0" y2="301.3" stroke="#d6d6d6" stroke-width="0.60"/><line x1="417.6" y1="263.6" x2="417.6" y2="271.9" stroke="#d6d6d6" stroke-width="0.60"/><line x1="371.7" y1="311.2" x2="417.6" y2="271.9" stroke="#d6d6d6" stroke-width="0.60"/><line x1="417.6" y1="271.9" x2="521.0" y2="301.3" stroke="#d6d6d6" stroke-width="0.60"/><line x1="371.7" y1="302.9" x2="371.7" y2="311.2" stroke="#454545" stroke-width="0.80"/><line x1="371.7" y1="311.2" x2="475.0" y2="341.0" stroke="#454545" stroke-width="0.80"/><line x1="475.0" y1="341.0" x2="521.0" y2="301.3" stroke="#454545" stroke-width="0.80"/><line x1="371.7" y1="309.5" x2="369.5" y2="309.5" stroke="#454545" stroke-width="0.70"/><line x1="371.7" y1="307.5" x2="369.5" y2="307.5" stroke="#454545" stroke-width="0.70"/><line x1="371.7" y1="305.6" x2="369.5" y2="305.6" stroke="#454545" stroke-width="0.70"/><line x1="371.7" y1="303.5" x2="369.5" y2="303.5" stroke="#454545" stroke-width="0.70"/><line x1="383.8" y1="314.7" x2="382.3" y2="316.0" stroke="#454545" stroke-width="0.60"/><line x1="405.8" y1="321.0" x2="404.3" y2="322.3" stroke="#454545" stroke-width="0.60"/><line x1="427.5" y1="327.3" x2="426.0" y2="328.6" stroke="#454545" stroke-width="0.60"/><line x1="449.2" y1="333.6" x2="447.7" y2="334.9" stroke="#454545" stroke-width="0.60"/><line x1="470.9" y1="339.8" x2="469.4" y2="341.1" stroke="#454545" stroke-width="0.60"/><line x1="489.7" y1="328.3" x2="491.6" y2="328.9" stroke="#454545" stroke-width="0.60"/><line x1="504.0" y1="316.0" x2="505.9" y2="316.5" stroke="#454545" stroke-width="0.60"/><line x1="517.8" y1="304.1" x2="519.7" y2="304.6" stroke="#454545" stroke-width="0.60"/>
<g mask="url(#c9)"><g filter="url(#speck)"><rect x="366.0" y="262.0" width="158.0" height="78.0" fill="#ff7a00"/><g filter="url(#b2)"><polyline points="376.0,307.0 388.0,297.0 404.0,283.5 417.0,270.0" fill="none" stroke="#18e0f0" stroke-width="8.0" stroke-linecap="round" stroke-linejoin="round" opacity="1.00"/><polyline points="379.0,304.0 390.0,294.5 403.0,285.5" fill="none" stroke="#1040f0" stroke-width="3.8" stroke-linecap="round" stroke-linejoin="round" opacity="1.00"/><polyline points="373.0,309.0 379.0,304.0" fill="none" stroke="#2aa0ff" stroke-width="3.5" stroke-linecap="round" stroke-linejoin="round" opacity="1.00"/><ellipse cx="419.5" cy="276.5" rx="10.5" ry="7.0" transform="rotate(-15 419.5 276.5)" fill="#18e0f0" opacity="1.00"/><ellipse cx="408.0" cy="278.0" rx="3.5" ry="4.5" transform="rotate(-30 408.0 278.0)" fill="#7df070" opacity="1.00"/><ellipse cx="419.0" cy="267.5" rx="4.0" ry="2.0" transform="rotate(10 419.0 267.5)" fill="#f6ee10" opacity="1.00"/><polyline points="384.0,310.0 398.0,299.0 412.0,288.0 424.0,284.0 431.0,277.0 433.0,271.0" fill="none" stroke="#f6ee10" stroke-width="5.0" stroke-linecap="round" stroke-linejoin="round" opacity="1.00"/><polyline points="392.0,312.5 406.0,300.0 418.0,290.0" fill="none" stroke="#ff8a00" stroke-width="6.0" stroke-linecap="round" stroke-linejoin="round" opacity="0.90"/><polyline points="404.0,309.0 416.0,298.0 428.0,289.0" fill="none" stroke="#f23a0c" stroke-width="8.0" stroke-linecap="round" stroke-linejoin="round" opacity="0.85"/><polyline points="441.0,277.0 454.0,282.0 470.0,290.0" fill="none" stroke="#e81010" stroke-width="13.0" stroke-linecap="round" stroke-linejoin="round" opacity="1.00"/><polyline points="432.0,291.0 446.0,298.0 462.0,302.0" fill="none" stroke="#e81010" stroke-width="12.0" stroke-linecap="round" stroke-linejoin="round" opacity="1.00"/><polyline points="437.0,272.5 444.0,275.0" fill="none" stroke="#e81010" stroke-width="4.0" stroke-linecap="round" stroke-linejoin="round" opacity="1.00"/><polyline points="449.0,279.0 460.0,281.5 474.0,285.5" fill="none" stroke="#9a0505" stroke-width="6.5" stroke-linecap="round" stroke-linejoin="round" opacity="1.00"/><polyline points="420.0,300.0 432.0,309.0 445.0,313.0" fill="none" stroke="#ff8a00" stroke-width="8.0" stroke-linecap="round" stroke-linejoin="round" opacity="0.80"/><polyline points="441.0,315.5 450.0,320.0 458.0,322.0" fill="none" stroke="#e81010" stroke-width="9.0" stroke-linecap="round" stroke-linejoin="round" opacity="1.00"/><polyline points="478.0,287.0 486.0,290.5 493.0,293.0" fill="none" stroke="#ff8a00" stroke-width="5.0" stroke-linecap="round" stroke-linejoin="round" opacity="1.00"/><polyline points="487.0,291.0 497.0,294.0 506.0,297.0" fill="none" stroke="#e81010" stroke-width="8.0" stroke-linecap="round" stroke-linejoin="round" opacity="1.00"/><ellipse cx="512.0" cy="298.5" rx="5.0" ry="3.5" transform="rotate(-30 512.0 298.5)" fill="#7df070" opacity="1.00"/><ellipse cx="506.0" cy="303.0" rx="8.0" ry="5.0" transform="rotate(-30 506.0 303.0)" fill="#f6ee10" opacity="1.00"/><ellipse cx="500.0" cy="309.0" rx="5.0" ry="3.0" transform="rotate(-40 500.0 309.0)" fill="#ff8a00" opacity="1.00"/><polyline points="478.0,299.0 475.0,308.0 473.0,318.0" fill="none" stroke="#f6ee10" stroke-width="7.0" stroke-linecap="round" stroke-linejoin="round" opacity="1.00"/><polyline points="462.0,322.5 468.0,324.5" fill="none" stroke="#f6ee10" stroke-width="6.0" stroke-linecap="round" stroke-linejoin="round" opacity="1.00"/><polyline points="488.0,306.0 486.0,316.0 480.0,325.0 473.0,329.5" fill="none" stroke="#7df070" stroke-width="10.0" stroke-linecap="round" stroke-linejoin="round" opacity="1.00"/><polyline points="491.0,310.0 490.0,319.0" fill="none" stroke="#18e0f0" stroke-width="6.0" stroke-linecap="round" stroke-linejoin="round" opacity="1.00"/><ellipse cx="494.8" cy="316.5" rx="3.2" ry="3.0" transform="rotate(0 494.8 316.5)" fill="#0a10b0" opacity="1.00"/><ellipse cx="493.0" cy="314.0" rx="3.5" ry="3.0" transform="rotate(0 493.0 314.0)" fill="#1040f0" opacity="0.90"/></g></g><g filter="url(#vspeck)"><g filter="url(#b3)"><ellipse cx="438.0" cy="306.0" rx="26.0" ry="6.0" transform="rotate(-28 438.0 306.0)" fill="#fff" opacity="0.70"/><ellipse cx="420.0" cy="312.0" rx="14.0" ry="5.0" transform="rotate(10 420.0 312.0)" fill="#fff" opacity="0.55"/><ellipse cx="462.0" cy="296.0" rx="12.0" ry="5.0" transform="rotate(-20 462.0 296.0)" fill="#fff" opacity="0.50"/><ellipse cx="400.0" cy="300.0" rx="10.0" ry="4.0" transform="rotate(-40 400.0 300.0)" fill="#fff" opacity="0.50"/></g></g></g>
<text x="31.2" y="65.4" font-family="'Liberation Serif', 'Times New Roman', serif" font-size="6.30" text-anchor="end" fill="#222">1100</text>
<text x="31.2" y="76.5" font-family="'Liberation Serif', 'Times New Roman', serif" font-size="6.30" text-anchor="end" fill="#222">1000</text>
<text x="199.0" y="65.4" font-family="'Liberation Serif', 'Times New Roman', serif" font-size="6.30" text-anchor="end" fill="#222">1100</text>
<text x="199.0" y="76.5" font-family="'Liberation Serif', 'Times New Roman', serif" font-size="6.30" text-anchor="end" fill="#222">1000</text>
<text x="366.4" y="69.1" font-family="'Liberation Serif', 'Times New Roman', serif" font-size="6.30" text-anchor="end" fill="#222">1050</text>
<text x="366.4" y="79.5" font-family="'Liberation Serif', 'Times New Roman', serif" font-size="6.30" text-anchor="end" fill="#222">950</text>
<text x="31.2" y="187.7" font-family="'Liberation Serif', 'Times New Roman', serif" font-size="6.30" text-anchor="end" fill="#222">2550</text>
<text x="31.2" y="193.7" font-family="'Liberation Serif', 'Times New Roman', serif" font-size="6.30" text-anchor="end" fill="#222">2500</text>
<text x="199.0" y="187.7" font-family="'Liberation Serif', 'Times New Roman', serif" font-size="6.30" text-anchor="end" fill="#222">2550</text>
<text x="199.0" y="193.7" font-family="'Liberation Serif', 'Times New Roman', serif" font-size="6.30" text-anchor="end" fill="#222">2500</text>
<text x="366.4" y="191.9" font-family="'Liberation Serif', 'Times New Roman', serif" font-size="6.30" text-anchor="end" fill="#222">2500</text>
<text x="31.2" y="302.8" font-family="'Liberation Serif', 'Times New Roman', serif" font-size="6.30" text-anchor="end" fill="#222">2550</text>
<text x="31.2" y="308.6" font-family="'Liberation Serif', 'Times New Roman', serif" font-size="6.30" text-anchor="end" fill="#222">2500</text>
<text x="199.0" y="302.8" font-family="'Liberation Serif', 'Times New Roman', serif" font-size="6.30" text-anchor="end" fill="#222">2550</text>
<text x="199.0" y="308.6" font-family="'Liberation Serif', 'Times New Roman', serif" font-size="6.30" text-anchor="end" fill="#222">2500</text>
<text x="366.4" y="307.1" font-family="'Liberation Serif', 'Times New Roman', serif" font-size="6.30" text-anchor="end" fill="#222">2500</text>
<text x="366.4" y="311.8" font-family="'Liberation Serif', 'Times New Roman', serif" font-size="6.30" text-anchor="end" fill="#222">2460</text>
<text x="15.2" y="70.3" font-family="'Liberation Sans', Arial, sans-serif" font-size="6.30" text-anchor="middle" font-weight="bold" fill="#111" transform="rotate(-90 15.2 70.3)">Data 1</text>
<text x="15.2" y="186.3" font-family="'Liberation Sans', Arial, sans-serif" font-size="6.30" text-anchor="middle" font-weight="bold" fill="#111" transform="rotate(-90 15.2 186.3)">Data 2</text>
<text x="15.2" y="302.0" font-family="'Liberation Sans', Arial, sans-serif" font-size="6.30" text-anchor="middle" font-weight="bold" fill="#111" transform="rotate(-90 15.2 302.0)">Data 3</text>
<text x="35.6" y="24.2" font-family="'Liberation Serif', 'Times New Roman', serif" font-size="7.50" text-anchor="start" font-weight="bold" fill="#111">(a)</text>
<text x="204.0" y="23.7" font-family="'Liberation Serif', 'Times New Roman', serif" font-size="7.50" text-anchor="start" font-weight="bold" fill="#111">(b)</text>
<text x="371.5" y="26.7" font-family="'Liberation Serif', 'Times New Roman', serif" font-size="7.50" text-anchor="start" font-weight="bold" fill="#111">(c)</text>
<text x="36.1" y="145.7" font-family="'Liberation Serif', 'Times New Roman', serif" font-size="7.50" text-anchor="start" font-weight="bold" fill="#111">(d)</text>
<text x="204.0" y="145.7" font-family="'Liberation Serif', 'Times New Roman', serif" font-size="7.50" text-anchor="start" font-weight="bold" fill="#111">(e)</text>
<text x="371.5" y="148.0" font-family="'Liberation Serif', 'Times New Roman', serif" font-size="7.50" text-anchor="start" font-weight="bold" fill="#111">(f)</text>
<text x="36.1" y="260.4" font-family="'Liberation Serif', 'Times New Roman', serif" font-size="7.50" text-anchor="start" font-weight="bold" fill="#111">(g)</text>
<text x="204.0" y="260.4" font-family="'Liberation Serif', 'Times New Roman', serif" font-size="7.50" text-anchor="start" font-weight="bold" fill="#111">(h)</text>
<text x="371.5" y="262.4" font-family="'Liberation Serif', 'Times New Roman', serif" font-size="7.50" text-anchor="start" font-weight="bold" fill="#111">(i)</text>
<text x="109.7" y="23.7" font-family="'Liberation Serif', 'Times New Roman', serif" font-size="7.00" text-anchor="middle" font-weight="bold" fill="#111">Original data</text>
<text x="277.5" y="23.4" font-family="'Liberation Serif', 'Times New Roman', serif" font-size="7.00" text-anchor="middle" font-weight="bold" fill="#111">Accuracy of filtering = 92.18%</text>
<text x="445.1" y="24.9" font-family="'Liberation Serif', 'Times New Roman', serif" font-size="7.00" text-anchor="middle" font-weight="bold" fill="#111">misclassifications</text>
<text x="109.7" y="143.7" font-family="'Liberation Serif', 'Times New Roman', serif" font-size="7.00" text-anchor="middle" font-weight="bold" fill="#111">Original data</text>
<text x="277.5" y="143.7" font-family="'Liberation Serif', 'Times New Roman', serif" font-size="7.00" text-anchor="middle" font-weight="bold" fill="#111">Accuracy of filtering = 82.25%</text>
<text x="445.1" y="145.4" font-family="'Liberation Serif', 'Times New Roman', serif" font-size="7.00" text-anchor="middle" font-weight="bold" fill="#111">misclassifications</text>
<text x="109.7" y="258.6" font-family="'Liberation Serif', 'Times New Roman', serif" font-size="7.00" text-anchor="middle" font-weight="bold" fill="#111">Original data</text>
<text x="277.5" y="258.6" font-family="'Liberation Serif', 'Times New Roman', serif" font-size="7.00" text-anchor="middle" font-weight="bold" fill="#111">Accuracy of filtering = 81.19%</text>
<text x="445.1" y="260.4" font-family="'Liberation Serif', 'Times New Roman', serif" font-size="7.00" text-anchor="middle" font-weight="bold" fill="#111">misclassifications</text>
<rect x="161.7" y="101.2" width="6.1" height="17.8" fill="url(#gpar)"/>
<text x="171.0" y="104.8" font-family="'Liberation Serif', 'Times New Roman', serif" font-size="6.30" text-anchor="start" fill="#222">1100</text>
<text x="171.0" y="114.4" font-family="'Liberation Serif', 'Times New Roman', serif" font-size="6.30" text-anchor="start" fill="#222">1000</text>
<text x="191.2" y="110.0" font-family="'Liberation Serif', 'Times New Roman', serif" font-size="6.50" text-anchor="middle" fill="#222" transform="rotate(-90 191.2 110.0)">Height (m)</text>
<rect x="161.7" y="213.7" width="6.1" height="18.1" fill="url(#gpar)"/>
<text x="171.0" y="219.9" font-family="'Liberation Serif', 'Times New Roman', serif" font-size="6.30" text-anchor="start" fill="#222">2550</text>
<text x="171.0" y="229.8" font-family="'Liberation Serif', 'Times New Roman', serif" font-size="6.30" text-anchor="start" fill="#222">2500</text>
<text x="191.2" y="223.0" font-family="'Liberation Serif', 'Times New Roman', serif" font-size="6.50" text-anchor="middle" fill="#222" transform="rotate(-90 191.2 223.0)">Height (m)</text>
<rect x="161.7" y="329.6" width="6.1" height="18.2" fill="url(#gpar)"/>
<text x="171.0" y="333.1" font-family="'Liberation Serif', 'Times New Roman', serif" font-size="6.30" text-anchor="start" fill="#222">2550</text>
<text x="171.0" y="342.1" font-family="'Liberation Serif', 'Times New Roman', serif" font-size="6.30" text-anchor="start" fill="#222">2500</text>
<text x="191.2" y="338.5" font-family="'Liberation Serif', 'Times New Roman', serif" font-size="6.50" text-anchor="middle" fill="#222" transform="rotate(-90 191.2 338.5)">Height (m)</text>
<rect x="499.7" y="104.0" width="6.4" height="17.8" fill="url(#gjet)"/>
<text x="509.3" y="109.3" font-family="'Liberation Serif', 'Times New Roman', serif" font-size="6.30" text-anchor="start" fill="#222">1050</text>
<text x="509.3" y="121.6" font-family="'Liberation Serif', 'Times New Roman', serif" font-size="6.30" text-anchor="start" fill="#222">950</text>
<text x="529.0" y="113.0" font-family="'Liberation Serif', 'Times New Roman', serif" font-size="6.50" text-anchor="middle" fill="#222" transform="rotate(-90 529.0 113.0)">Height (m)</text>
<rect x="501.4" y="214.6" width="6.0" height="17.9" fill="url(#gjet)"/>
<text x="510.6" y="221.8" font-family="'Liberation Serif', 'Times New Roman', serif" font-size="6.30" text-anchor="start" fill="#222">2520</text>
<text x="510.6" y="233.9" font-family="'Liberation Serif', 'Times New Roman', serif" font-size="6.30" text-anchor="start" fill="#222">2480</text>
<text x="531.0" y="223.5" font-family="'Liberation Serif', 'Times New Roman', serif" font-size="6.50" text-anchor="middle" fill="#222" transform="rotate(-90 531.0 223.5)">Height (m)</text>
<rect x="502.9" y="330.5" width="6.1" height="18.2" fill="url(#gjet)"/>
<text x="512.2" y="339.4" font-family="'Liberation Serif', 'Times New Roman', serif" font-size="6.30" text-anchor="start" fill="#222">2500</text>
<text x="512.2" y="349.6" font-family="'Liberation Serif', 'Times New Roman', serif" font-size="6.30" text-anchor="start" fill="#222">2460</text>
<text x="532.3" y="339.5" font-family="'Liberation Serif', 'Times New Roman', serif" font-size="6.50" text-anchor="middle" fill="#222" transform="rotate(-90 532.3 339.5)">Height (m)</text>
<rect x="329.3" y="101.7" width="6.3" height="9.2" fill="#f05a1e"/><rect x="329.3" y="110.9" width="6.3" height="9" fill="#0f6ac4"/>
<text x="338.3" y="108.6" font-family="'Liberation Serif', 'Times New Roman', serif" font-size="6.40" text-anchor="start" fill="#222">Ground</text>
<text x="338.3" y="117.5" font-family="'Liberation Serif', 'Times New Roman', serif" font-size="6.40" text-anchor="start" fill="#222">Nonground</text>
<rect x="330.1" y="214.6" width="6.3" height="9.2" fill="#f05a1e"/><rect x="330.1" y="223.8" width="6.3" height="9" fill="#0f6ac4"/>
<text x="339.1" y="221.5" font-family="'Liberation Serif', 'Times New Roman', serif" font-size="6.40" text-anchor="start" fill="#222">Ground</text>
<text x="339.1" y="230.4" font-family="'Liberation Serif', 'Times New Roman', serif" font-size="6.40" text-anchor="start" fill="#222">Nonground</text>
<rect x="330.1" y="329.6" width="6.3" height="9.2" fill="#f05a1e"/><rect x="330.1" y="338.8" width="6.3" height="9" fill="#0f6ac4"/>
<text x="339.1" y="336.5" font-family="'Liberation Serif', 'Times New Roman', serif" font-size="6.40" text-anchor="start" fill="#222">Ground</text>
<text x="339.1" y="345.4" font-family="'Liberation Serif', 'Times New Roman', serif" font-size="6.40" text-anchor="start" fill="#222">Nonground</text>
</svg></body></html>
